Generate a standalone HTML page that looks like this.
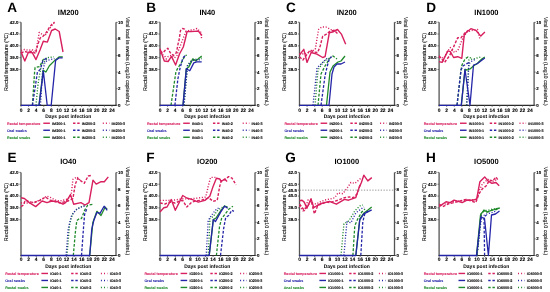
<!DOCTYPE html>
<html><head><meta charset="utf-8"><style>
html,body{margin:0;padding:0;background:#fff;}
svg{display:block;will-change:transform;filter:blur(0.3px);}
</style></head><body>
<svg width="550" height="292" viewBox="0 0 550 292" text-rendering="geometricPrecision">
<rect width="550" height="292" fill="#fff"/>
<g transform="translate(0.0,0.0)">
<text x="7.21" y="12.30" font-size="13.6" font-weight="bold" font-family="Liberation Sans, sans-serif">A</text>
<text x="68.3" y="14.60" font-size="7.5" font-weight="bold" text-anchor="middle" font-family="Liberation Sans, sans-serif">IM200</text>
<path d="M21.0 22.2V105.3M116.0 105.3V22.2" fill="none" stroke="#555" stroke-width="1.3"/>
<path d="M20.35 105.3H116.65" fill="none" stroke="#2a2a2a" stroke-width="1.2"/>
<path d="M19.4 22.20H21.0" stroke="#555" stroke-width="0.8"/>
<text x="18.4" y="23.65" font-size="4.4" font-weight="bold" text-anchor="end" stroke="#000" stroke-width="0.1" font-family="Liberation Sans, sans-serif">42.0</text>
<path d="M19.4 34.03H21.0" stroke="#555" stroke-width="0.8"/>
<text x="18.4" y="35.48" font-size="4.4" font-weight="bold" text-anchor="end" stroke="#000" stroke-width="0.1" font-family="Liberation Sans, sans-serif">41.0</text>
<path d="M19.4 45.86H21.0" stroke="#555" stroke-width="0.8"/>
<text x="18.4" y="47.31" font-size="4.4" font-weight="bold" text-anchor="end" stroke="#000" stroke-width="0.1" font-family="Liberation Sans, sans-serif">40.0</text>
<path d="M19.4 57.69H21.0" stroke="#555" stroke-width="0.8"/>
<text x="18.4" y="59.14" font-size="4.4" font-weight="bold" text-anchor="end" stroke="#000" stroke-width="0.1" font-family="Liberation Sans, sans-serif">39.0</text>
<path d="M19.4 69.52H21.0" stroke="#555" stroke-width="0.8"/>
<text x="18.4" y="70.97" font-size="4.4" font-weight="bold" text-anchor="end" stroke="#000" stroke-width="0.1" font-family="Liberation Sans, sans-serif">38.0</text>
<path d="M21.00 105.3V106.8" stroke="#555" stroke-width="0.8"/>
<text x="21.00" y="111.75" font-size="4.9" font-weight="bold" text-anchor="middle" stroke="#000" stroke-width="0.1" font-family="Liberation Sans, sans-serif">0</text>
<path d="M28.58 105.3V106.8" stroke="#555" stroke-width="0.8"/>
<text x="28.58" y="111.75" font-size="4.9" font-weight="bold" text-anchor="middle" stroke="#000" stroke-width="0.1" font-family="Liberation Sans, sans-serif">2</text>
<path d="M36.16 105.3V106.8" stroke="#555" stroke-width="0.8"/>
<text x="36.16" y="111.75" font-size="4.9" font-weight="bold" text-anchor="middle" stroke="#000" stroke-width="0.1" font-family="Liberation Sans, sans-serif">4</text>
<path d="M43.74 105.3V106.8" stroke="#555" stroke-width="0.8"/>
<text x="43.74" y="111.75" font-size="4.9" font-weight="bold" text-anchor="middle" stroke="#000" stroke-width="0.1" font-family="Liberation Sans, sans-serif">6</text>
<path d="M51.32 105.3V106.8" stroke="#555" stroke-width="0.8"/>
<text x="51.32" y="111.75" font-size="4.9" font-weight="bold" text-anchor="middle" stroke="#000" stroke-width="0.1" font-family="Liberation Sans, sans-serif">8</text>
<path d="M58.90 105.3V106.8" stroke="#555" stroke-width="0.8"/>
<text x="58.90" y="111.75" font-size="4.9" font-weight="bold" text-anchor="middle" stroke="#000" stroke-width="0.1" font-family="Liberation Sans, sans-serif">10</text>
<path d="M66.48 105.3V106.8" stroke="#555" stroke-width="0.8"/>
<text x="66.48" y="111.75" font-size="4.9" font-weight="bold" text-anchor="middle" stroke="#000" stroke-width="0.1" font-family="Liberation Sans, sans-serif">12</text>
<path d="M74.06 105.3V106.8" stroke="#555" stroke-width="0.8"/>
<text x="74.06" y="111.75" font-size="4.9" font-weight="bold" text-anchor="middle" stroke="#000" stroke-width="0.1" font-family="Liberation Sans, sans-serif">14</text>
<path d="M81.64 105.3V106.8" stroke="#555" stroke-width="0.8"/>
<text x="81.64" y="111.75" font-size="4.9" font-weight="bold" text-anchor="middle" stroke="#000" stroke-width="0.1" font-family="Liberation Sans, sans-serif">16</text>
<path d="M89.22 105.3V106.8" stroke="#555" stroke-width="0.8"/>
<text x="89.22" y="111.75" font-size="4.9" font-weight="bold" text-anchor="middle" stroke="#000" stroke-width="0.1" font-family="Liberation Sans, sans-serif">18</text>
<path d="M96.80 105.3V106.8" stroke="#555" stroke-width="0.8"/>
<text x="96.80" y="111.75" font-size="4.9" font-weight="bold" text-anchor="middle" stroke="#000" stroke-width="0.1" font-family="Liberation Sans, sans-serif">20</text>
<path d="M104.38 105.3V106.8" stroke="#555" stroke-width="0.8"/>
<text x="104.38" y="111.75" font-size="4.9" font-weight="bold" text-anchor="middle" stroke="#000" stroke-width="0.1" font-family="Liberation Sans, sans-serif">22</text>
<path d="M111.96 105.3V106.8" stroke="#555" stroke-width="0.8"/>
<text x="111.96" y="111.75" font-size="4.9" font-weight="bold" text-anchor="middle" stroke="#000" stroke-width="0.1" font-family="Liberation Sans, sans-serif">24</text>
<path d="M116.0 105.30H117.6" stroke="#555" stroke-width="0.8"/>
<text x="118.1" y="106.75" font-size="4.4" font-weight="bold" stroke="#000" stroke-width="0.1" font-family="Liberation Sans, sans-serif">0</text>
<path d="M116.0 88.72H117.6" stroke="#555" stroke-width="0.8"/>
<text x="118.1" y="90.17" font-size="4.4" font-weight="bold" stroke="#000" stroke-width="0.1" font-family="Liberation Sans, sans-serif">2</text>
<path d="M116.0 72.14H117.6" stroke="#555" stroke-width="0.8"/>
<text x="118.1" y="73.59" font-size="4.4" font-weight="bold" stroke="#000" stroke-width="0.1" font-family="Liberation Sans, sans-serif">4</text>
<path d="M116.0 55.56H117.6" stroke="#555" stroke-width="0.8"/>
<text x="118.1" y="57.01" font-size="4.4" font-weight="bold" stroke="#000" stroke-width="0.1" font-family="Liberation Sans, sans-serif">6</text>
<path d="M116.0 38.98H117.6" stroke="#555" stroke-width="0.8"/>
<text x="118.1" y="40.43" font-size="4.4" font-weight="bold" stroke="#000" stroke-width="0.1" font-family="Liberation Sans, sans-serif">8</text>
<path d="M116.0 22.40H117.6" stroke="#555" stroke-width="0.8"/>
<text x="118.1" y="23.85" font-size="4.4" font-weight="bold" stroke="#000" stroke-width="0.1" font-family="Liberation Sans, sans-serif">10</text>
<text transform="translate(7.7,61.9) rotate(-90)" font-size="5.5" fill="#111" stroke="#111" stroke-width="0.12" text-anchor="middle" font-family="Liberation Sans, sans-serif">Rectal temperature (°C)</text>
<text transform="translate(125.5,61.30) rotate(90)" font-size="5.25" fill="#111" stroke="#111" stroke-width="0.12" text-anchor="middle" font-family="Liberation Sans, sans-serif">Viral load in swabs (Log10 copies/mL)</text>
<text x="68.2" y="118.10" font-size="5" font-weight="bold" text-anchor="middle" font-family="Liberation Sans, sans-serif">Days post infection</text>
<text x="7.0" y="124.8" font-size="3.7" font-weight="bold" fill="#d81f5f" stroke="#d81f5f" stroke-width="0.06" font-family="Liberation Sans, sans-serif">Rectal temperature</text>
<path d="M43.30 123.25h6.6" stroke="#d81f5f" stroke-width="1.4"/>
<text x="52.10" y="124.8" font-size="3.7" font-weight="bold" fill="#111" stroke="#111" stroke-width="0.1" font-family="Liberation Sans, sans-serif">IM200-1</text>
<path d="M73.05 123.25h6.6" stroke="#d81f5f" stroke-width="1.4" stroke-dasharray="2.4 1.8"/>
<text x="81.85" y="124.8" font-size="3.7" font-weight="bold" fill="#111" stroke="#111" stroke-width="0.1" font-family="Liberation Sans, sans-serif">IM200-2</text>
<path d="M102.80 123.25h6.6" stroke="#d81f5f" stroke-width="1.4" stroke-dasharray="1 2.1"/>
<text x="111.60" y="124.8" font-size="3.7" font-weight="bold" fill="#111" stroke="#111" stroke-width="0.1" font-family="Liberation Sans, sans-serif">IM200-3</text>
<text x="7.0" y="131.8" font-size="3.7" font-weight="bold" fill="#2424a8" stroke="#2424a8" stroke-width="0.06" font-family="Liberation Sans, sans-serif">Oral swabs</text>
<path d="M43.30 130.25h6.6" stroke="#2424a8" stroke-width="1.4"/>
<text x="52.10" y="131.8" font-size="3.7" font-weight="bold" fill="#111" stroke="#111" stroke-width="0.1" font-family="Liberation Sans, sans-serif">IM200-1</text>
<path d="M73.05 130.25h6.6" stroke="#2424a8" stroke-width="1.4" stroke-dasharray="2.4 1.8"/>
<text x="81.85" y="131.8" font-size="3.7" font-weight="bold" fill="#111" stroke="#111" stroke-width="0.1" font-family="Liberation Sans, sans-serif">IM200-2</text>
<path d="M102.80 130.25h6.6" stroke="#2424a8" stroke-width="1.4" stroke-dasharray="1 2.1"/>
<text x="111.60" y="131.8" font-size="3.7" font-weight="bold" fill="#111" stroke="#111" stroke-width="0.1" font-family="Liberation Sans, sans-serif">IM200-3</text>
<text x="7.0" y="138.8" font-size="3.7" font-weight="bold" fill="#1f8a2a" stroke="#1f8a2a" stroke-width="0.06" font-family="Liberation Sans, sans-serif">Rectal swabs</text>
<path d="M43.30 137.25h6.6" stroke="#1f8a2a" stroke-width="1.4"/>
<text x="52.10" y="138.8" font-size="3.7" font-weight="bold" fill="#111" stroke="#111" stroke-width="0.1" font-family="Liberation Sans, sans-serif">IM200-1</text>
<path d="M73.05 137.25h6.6" stroke="#1f8a2a" stroke-width="1.4" stroke-dasharray="2.4 1.8"/>
<text x="81.85" y="138.8" font-size="3.7" font-weight="bold" fill="#111" stroke="#111" stroke-width="0.1" font-family="Liberation Sans, sans-serif">IM200-2</text>
<path d="M102.80 137.25h6.6" stroke="#1f8a2a" stroke-width="1.4" stroke-dasharray="1 2.1"/>
<text x="111.60" y="138.8" font-size="3.7" font-weight="bold" fill="#111" stroke="#111" stroke-width="0.1" font-family="Liberation Sans, sans-serif">IM200-3</text>
</g>
<g transform="translate(139.0,0.0)">
<text x="7.34" y="12.30" font-size="13.6" font-weight="bold" font-family="Liberation Sans, sans-serif">B</text>
<text x="68.3" y="14.60" font-size="7.5" font-weight="bold" text-anchor="middle" font-family="Liberation Sans, sans-serif">IN40</text>
<path d="M21.0 22.2V105.3M116.0 105.3V22.2" fill="none" stroke="#555" stroke-width="1.3"/>
<path d="M20.35 105.3H116.65" fill="none" stroke="#2a2a2a" stroke-width="1.2"/>
<path d="M19.4 22.20H21.0" stroke="#555" stroke-width="0.8"/>
<text x="18.4" y="23.65" font-size="4.4" font-weight="bold" text-anchor="end" stroke="#000" stroke-width="0.1" font-family="Liberation Sans, sans-serif">42.0</text>
<path d="M19.4 34.03H21.0" stroke="#555" stroke-width="0.8"/>
<text x="18.4" y="35.48" font-size="4.4" font-weight="bold" text-anchor="end" stroke="#000" stroke-width="0.1" font-family="Liberation Sans, sans-serif">41.0</text>
<path d="M19.4 45.86H21.0" stroke="#555" stroke-width="0.8"/>
<text x="18.4" y="47.31" font-size="4.4" font-weight="bold" text-anchor="end" stroke="#000" stroke-width="0.1" font-family="Liberation Sans, sans-serif">40.0</text>
<path d="M19.4 57.69H21.0" stroke="#555" stroke-width="0.8"/>
<text x="18.4" y="59.14" font-size="4.4" font-weight="bold" text-anchor="end" stroke="#000" stroke-width="0.1" font-family="Liberation Sans, sans-serif">39.0</text>
<path d="M19.4 69.52H21.0" stroke="#555" stroke-width="0.8"/>
<text x="18.4" y="70.97" font-size="4.4" font-weight="bold" text-anchor="end" stroke="#000" stroke-width="0.1" font-family="Liberation Sans, sans-serif">38.0</text>
<path d="M21.00 105.3V106.8" stroke="#555" stroke-width="0.8"/>
<text x="21.00" y="111.75" font-size="4.9" font-weight="bold" text-anchor="middle" stroke="#000" stroke-width="0.1" font-family="Liberation Sans, sans-serif">0</text>
<path d="M28.58 105.3V106.8" stroke="#555" stroke-width="0.8"/>
<text x="28.58" y="111.75" font-size="4.9" font-weight="bold" text-anchor="middle" stroke="#000" stroke-width="0.1" font-family="Liberation Sans, sans-serif">2</text>
<path d="M36.16 105.3V106.8" stroke="#555" stroke-width="0.8"/>
<text x="36.16" y="111.75" font-size="4.9" font-weight="bold" text-anchor="middle" stroke="#000" stroke-width="0.1" font-family="Liberation Sans, sans-serif">4</text>
<path d="M43.74 105.3V106.8" stroke="#555" stroke-width="0.8"/>
<text x="43.74" y="111.75" font-size="4.9" font-weight="bold" text-anchor="middle" stroke="#000" stroke-width="0.1" font-family="Liberation Sans, sans-serif">6</text>
<path d="M51.32 105.3V106.8" stroke="#555" stroke-width="0.8"/>
<text x="51.32" y="111.75" font-size="4.9" font-weight="bold" text-anchor="middle" stroke="#000" stroke-width="0.1" font-family="Liberation Sans, sans-serif">8</text>
<path d="M58.90 105.3V106.8" stroke="#555" stroke-width="0.8"/>
<text x="58.90" y="111.75" font-size="4.9" font-weight="bold" text-anchor="middle" stroke="#000" stroke-width="0.1" font-family="Liberation Sans, sans-serif">10</text>
<path d="M66.48 105.3V106.8" stroke="#555" stroke-width="0.8"/>
<text x="66.48" y="111.75" font-size="4.9" font-weight="bold" text-anchor="middle" stroke="#000" stroke-width="0.1" font-family="Liberation Sans, sans-serif">12</text>
<path d="M74.06 105.3V106.8" stroke="#555" stroke-width="0.8"/>
<text x="74.06" y="111.75" font-size="4.9" font-weight="bold" text-anchor="middle" stroke="#000" stroke-width="0.1" font-family="Liberation Sans, sans-serif">14</text>
<path d="M81.64 105.3V106.8" stroke="#555" stroke-width="0.8"/>
<text x="81.64" y="111.75" font-size="4.9" font-weight="bold" text-anchor="middle" stroke="#000" stroke-width="0.1" font-family="Liberation Sans, sans-serif">16</text>
<path d="M89.22 105.3V106.8" stroke="#555" stroke-width="0.8"/>
<text x="89.22" y="111.75" font-size="4.9" font-weight="bold" text-anchor="middle" stroke="#000" stroke-width="0.1" font-family="Liberation Sans, sans-serif">18</text>
<path d="M96.80 105.3V106.8" stroke="#555" stroke-width="0.8"/>
<text x="96.80" y="111.75" font-size="4.9" font-weight="bold" text-anchor="middle" stroke="#000" stroke-width="0.1" font-family="Liberation Sans, sans-serif">20</text>
<path d="M104.38 105.3V106.8" stroke="#555" stroke-width="0.8"/>
<text x="104.38" y="111.75" font-size="4.9" font-weight="bold" text-anchor="middle" stroke="#000" stroke-width="0.1" font-family="Liberation Sans, sans-serif">22</text>
<path d="M111.96 105.3V106.8" stroke="#555" stroke-width="0.8"/>
<text x="111.96" y="111.75" font-size="4.9" font-weight="bold" text-anchor="middle" stroke="#000" stroke-width="0.1" font-family="Liberation Sans, sans-serif">24</text>
<path d="M116.0 105.30H117.6" stroke="#555" stroke-width="0.8"/>
<text x="118.1" y="106.75" font-size="4.4" font-weight="bold" stroke="#000" stroke-width="0.1" font-family="Liberation Sans, sans-serif">0</text>
<path d="M116.0 88.72H117.6" stroke="#555" stroke-width="0.8"/>
<text x="118.1" y="90.17" font-size="4.4" font-weight="bold" stroke="#000" stroke-width="0.1" font-family="Liberation Sans, sans-serif">2</text>
<path d="M116.0 72.14H117.6" stroke="#555" stroke-width="0.8"/>
<text x="118.1" y="73.59" font-size="4.4" font-weight="bold" stroke="#000" stroke-width="0.1" font-family="Liberation Sans, sans-serif">4</text>
<path d="M116.0 55.56H117.6" stroke="#555" stroke-width="0.8"/>
<text x="118.1" y="57.01" font-size="4.4" font-weight="bold" stroke="#000" stroke-width="0.1" font-family="Liberation Sans, sans-serif">6</text>
<path d="M116.0 38.98H117.6" stroke="#555" stroke-width="0.8"/>
<text x="118.1" y="40.43" font-size="4.4" font-weight="bold" stroke="#000" stroke-width="0.1" font-family="Liberation Sans, sans-serif">8</text>
<path d="M116.0 22.40H117.6" stroke="#555" stroke-width="0.8"/>
<text x="118.1" y="23.85" font-size="4.4" font-weight="bold" stroke="#000" stroke-width="0.1" font-family="Liberation Sans, sans-serif">10</text>
<text transform="translate(7.7,61.9) rotate(-90)" font-size="5.5" fill="#111" stroke="#111" stroke-width="0.12" text-anchor="middle" font-family="Liberation Sans, sans-serif">Rectal temperature (°C)</text>
<text transform="translate(125.5,61.30) rotate(90)" font-size="5.25" fill="#111" stroke="#111" stroke-width="0.12" text-anchor="middle" font-family="Liberation Sans, sans-serif">Viral load in swabs (Log10 copies/mL)</text>
<text x="68.2" y="118.10" font-size="5" font-weight="bold" text-anchor="middle" font-family="Liberation Sans, sans-serif">Days post infection</text>
<text x="7.9" y="124.8" font-size="3.7" font-weight="bold" fill="#d81f5f" stroke="#d81f5f" stroke-width="0.06" font-family="Liberation Sans, sans-serif">Rectal temperature</text>
<path d="M44.20 123.25h6.6" stroke="#d81f5f" stroke-width="1.4"/>
<text x="53.00" y="124.8" font-size="3.7" font-weight="bold" fill="#111" stroke="#111" stroke-width="0.1" font-family="Liberation Sans, sans-serif">IN40-1</text>
<path d="M73.95 123.25h6.6" stroke="#d81f5f" stroke-width="1.4" stroke-dasharray="2.4 1.8"/>
<text x="82.75" y="124.8" font-size="3.7" font-weight="bold" fill="#111" stroke="#111" stroke-width="0.1" font-family="Liberation Sans, sans-serif">IN40-2</text>
<path d="M103.70 123.25h6.6" stroke="#d81f5f" stroke-width="1.4" stroke-dasharray="1 2.1"/>
<text x="112.50" y="124.8" font-size="3.7" font-weight="bold" fill="#111" stroke="#111" stroke-width="0.1" font-family="Liberation Sans, sans-serif">IN40-3</text>
<text x="7.9" y="131.8" font-size="3.7" font-weight="bold" fill="#2424a8" stroke="#2424a8" stroke-width="0.06" font-family="Liberation Sans, sans-serif">Oral swabs</text>
<path d="M44.20 130.25h6.6" stroke="#2424a8" stroke-width="1.4"/>
<text x="53.00" y="131.8" font-size="3.7" font-weight="bold" fill="#111" stroke="#111" stroke-width="0.1" font-family="Liberation Sans, sans-serif">IN40-1</text>
<path d="M73.95 130.25h6.6" stroke="#2424a8" stroke-width="1.4" stroke-dasharray="2.4 1.8"/>
<text x="82.75" y="131.8" font-size="3.7" font-weight="bold" fill="#111" stroke="#111" stroke-width="0.1" font-family="Liberation Sans, sans-serif">IN40-2</text>
<path d="M103.70 130.25h6.6" stroke="#2424a8" stroke-width="1.4" stroke-dasharray="1 2.1"/>
<text x="112.50" y="131.8" font-size="3.7" font-weight="bold" fill="#111" stroke="#111" stroke-width="0.1" font-family="Liberation Sans, sans-serif">IN40-3</text>
<text x="7.9" y="138.8" font-size="3.7" font-weight="bold" fill="#1f8a2a" stroke="#1f8a2a" stroke-width="0.06" font-family="Liberation Sans, sans-serif">Rectal swabs</text>
<path d="M44.20 137.25h6.6" stroke="#1f8a2a" stroke-width="1.4"/>
<text x="53.00" y="138.8" font-size="3.7" font-weight="bold" fill="#111" stroke="#111" stroke-width="0.1" font-family="Liberation Sans, sans-serif">IN40-1</text>
<path d="M73.95 137.25h6.6" stroke="#1f8a2a" stroke-width="1.4" stroke-dasharray="2.4 1.8"/>
<text x="82.75" y="138.8" font-size="3.7" font-weight="bold" fill="#111" stroke="#111" stroke-width="0.1" font-family="Liberation Sans, sans-serif">IN40-2</text>
<path d="M103.70 137.25h6.6" stroke="#1f8a2a" stroke-width="1.4" stroke-dasharray="1 2.1"/>
<text x="112.50" y="138.8" font-size="3.7" font-weight="bold" fill="#111" stroke="#111" stroke-width="0.1" font-family="Liberation Sans, sans-serif">IN40-3</text>
</g>
<g transform="translate(278.5,0.0)">
<text x="7.39" y="12.30" font-size="13.6" font-weight="bold" font-family="Liberation Sans, sans-serif">C</text>
<text x="68.3" y="14.60" font-size="7.5" font-weight="bold" text-anchor="middle" font-family="Liberation Sans, sans-serif">IN200</text>
<path d="M21.0 22.2V105.3M116.0 105.3V22.2" fill="none" stroke="#555" stroke-width="1.3"/>
<path d="M20.35 105.3H116.65" fill="none" stroke="#2a2a2a" stroke-width="1.2"/>
<path d="M19.4 22.20H21.0" stroke="#555" stroke-width="0.8"/>
<text x="18.4" y="23.65" font-size="4.4" font-weight="bold" text-anchor="end" stroke="#000" stroke-width="0.1" font-family="Liberation Sans, sans-serif">42.0</text>
<path d="M19.4 34.03H21.0" stroke="#555" stroke-width="0.8"/>
<text x="18.4" y="35.48" font-size="4.4" font-weight="bold" text-anchor="end" stroke="#000" stroke-width="0.1" font-family="Liberation Sans, sans-serif">41.0</text>
<path d="M19.4 45.86H21.0" stroke="#555" stroke-width="0.8"/>
<text x="18.4" y="47.31" font-size="4.4" font-weight="bold" text-anchor="end" stroke="#000" stroke-width="0.1" font-family="Liberation Sans, sans-serif">40.0</text>
<path d="M19.4 57.69H21.0" stroke="#555" stroke-width="0.8"/>
<text x="18.4" y="59.14" font-size="4.4" font-weight="bold" text-anchor="end" stroke="#000" stroke-width="0.1" font-family="Liberation Sans, sans-serif">39.0</text>
<path d="M19.4 69.52H21.0" stroke="#555" stroke-width="0.8"/>
<text x="18.4" y="70.97" font-size="4.4" font-weight="bold" text-anchor="end" stroke="#000" stroke-width="0.1" font-family="Liberation Sans, sans-serif">38.0</text>
<path d="M21.00 105.3V106.8" stroke="#555" stroke-width="0.8"/>
<text x="21.00" y="111.75" font-size="4.9" font-weight="bold" text-anchor="middle" stroke="#000" stroke-width="0.1" font-family="Liberation Sans, sans-serif">0</text>
<path d="M28.58 105.3V106.8" stroke="#555" stroke-width="0.8"/>
<text x="28.58" y="111.75" font-size="4.9" font-weight="bold" text-anchor="middle" stroke="#000" stroke-width="0.1" font-family="Liberation Sans, sans-serif">2</text>
<path d="M36.16 105.3V106.8" stroke="#555" stroke-width="0.8"/>
<text x="36.16" y="111.75" font-size="4.9" font-weight="bold" text-anchor="middle" stroke="#000" stroke-width="0.1" font-family="Liberation Sans, sans-serif">4</text>
<path d="M43.74 105.3V106.8" stroke="#555" stroke-width="0.8"/>
<text x="43.74" y="111.75" font-size="4.9" font-weight="bold" text-anchor="middle" stroke="#000" stroke-width="0.1" font-family="Liberation Sans, sans-serif">6</text>
<path d="M51.32 105.3V106.8" stroke="#555" stroke-width="0.8"/>
<text x="51.32" y="111.75" font-size="4.9" font-weight="bold" text-anchor="middle" stroke="#000" stroke-width="0.1" font-family="Liberation Sans, sans-serif">8</text>
<path d="M58.90 105.3V106.8" stroke="#555" stroke-width="0.8"/>
<text x="58.90" y="111.75" font-size="4.9" font-weight="bold" text-anchor="middle" stroke="#000" stroke-width="0.1" font-family="Liberation Sans, sans-serif">10</text>
<path d="M66.48 105.3V106.8" stroke="#555" stroke-width="0.8"/>
<text x="66.48" y="111.75" font-size="4.9" font-weight="bold" text-anchor="middle" stroke="#000" stroke-width="0.1" font-family="Liberation Sans, sans-serif">12</text>
<path d="M74.06 105.3V106.8" stroke="#555" stroke-width="0.8"/>
<text x="74.06" y="111.75" font-size="4.9" font-weight="bold" text-anchor="middle" stroke="#000" stroke-width="0.1" font-family="Liberation Sans, sans-serif">14</text>
<path d="M81.64 105.3V106.8" stroke="#555" stroke-width="0.8"/>
<text x="81.64" y="111.75" font-size="4.9" font-weight="bold" text-anchor="middle" stroke="#000" stroke-width="0.1" font-family="Liberation Sans, sans-serif">16</text>
<path d="M89.22 105.3V106.8" stroke="#555" stroke-width="0.8"/>
<text x="89.22" y="111.75" font-size="4.9" font-weight="bold" text-anchor="middle" stroke="#000" stroke-width="0.1" font-family="Liberation Sans, sans-serif">18</text>
<path d="M96.80 105.3V106.8" stroke="#555" stroke-width="0.8"/>
<text x="96.80" y="111.75" font-size="4.9" font-weight="bold" text-anchor="middle" stroke="#000" stroke-width="0.1" font-family="Liberation Sans, sans-serif">20</text>
<path d="M104.38 105.3V106.8" stroke="#555" stroke-width="0.8"/>
<text x="104.38" y="111.75" font-size="4.9" font-weight="bold" text-anchor="middle" stroke="#000" stroke-width="0.1" font-family="Liberation Sans, sans-serif">22</text>
<path d="M111.96 105.3V106.8" stroke="#555" stroke-width="0.8"/>
<text x="111.96" y="111.75" font-size="4.9" font-weight="bold" text-anchor="middle" stroke="#000" stroke-width="0.1" font-family="Liberation Sans, sans-serif">24</text>
<path d="M116.0 105.30H117.6" stroke="#555" stroke-width="0.8"/>
<text x="118.1" y="106.75" font-size="4.4" font-weight="bold" stroke="#000" stroke-width="0.1" font-family="Liberation Sans, sans-serif">0</text>
<path d="M116.0 88.72H117.6" stroke="#555" stroke-width="0.8"/>
<text x="118.1" y="90.17" font-size="4.4" font-weight="bold" stroke="#000" stroke-width="0.1" font-family="Liberation Sans, sans-serif">2</text>
<path d="M116.0 72.14H117.6" stroke="#555" stroke-width="0.8"/>
<text x="118.1" y="73.59" font-size="4.4" font-weight="bold" stroke="#000" stroke-width="0.1" font-family="Liberation Sans, sans-serif">4</text>
<path d="M116.0 55.56H117.6" stroke="#555" stroke-width="0.8"/>
<text x="118.1" y="57.01" font-size="4.4" font-weight="bold" stroke="#000" stroke-width="0.1" font-family="Liberation Sans, sans-serif">6</text>
<path d="M116.0 38.98H117.6" stroke="#555" stroke-width="0.8"/>
<text x="118.1" y="40.43" font-size="4.4" font-weight="bold" stroke="#000" stroke-width="0.1" font-family="Liberation Sans, sans-serif">8</text>
<path d="M116.0 22.40H117.6" stroke="#555" stroke-width="0.8"/>
<text x="118.1" y="23.85" font-size="4.4" font-weight="bold" stroke="#000" stroke-width="0.1" font-family="Liberation Sans, sans-serif">10</text>
<text transform="translate(7.7,61.9) rotate(-90)" font-size="5.5" fill="#111" stroke="#111" stroke-width="0.12" text-anchor="middle" font-family="Liberation Sans, sans-serif">Rectal temperature (°C)</text>
<text transform="translate(125.5,61.30) rotate(90)" font-size="5.25" fill="#111" stroke="#111" stroke-width="0.12" text-anchor="middle" font-family="Liberation Sans, sans-serif">Viral load in swabs (Log10 copies/mL)</text>
<text x="68.2" y="118.10" font-size="5" font-weight="bold" text-anchor="middle" font-family="Liberation Sans, sans-serif">Days post infection</text>
<text x="5.9" y="124.8" font-size="3.7" font-weight="bold" fill="#d81f5f" stroke="#d81f5f" stroke-width="0.06" font-family="Liberation Sans, sans-serif">Rectal temperature</text>
<path d="M42.10 123.25h6.6" stroke="#d81f5f" stroke-width="1.4"/>
<text x="50.90" y="124.8" font-size="3.7" font-weight="bold" fill="#111" stroke="#111" stroke-width="0.1" font-family="Liberation Sans, sans-serif">IN200-1</text>
<path d="M71.85 123.25h6.6" stroke="#d81f5f" stroke-width="1.4" stroke-dasharray="2.4 1.8"/>
<text x="80.65" y="124.8" font-size="3.7" font-weight="bold" fill="#111" stroke="#111" stroke-width="0.1" font-family="Liberation Sans, sans-serif">IN200-2</text>
<path d="M101.60 123.25h6.6" stroke="#d81f5f" stroke-width="1.4" stroke-dasharray="1 2.1"/>
<text x="110.40" y="124.8" font-size="3.7" font-weight="bold" fill="#111" stroke="#111" stroke-width="0.1" font-family="Liberation Sans, sans-serif">IN200-3</text>
<text x="5.9" y="131.8" font-size="3.7" font-weight="bold" fill="#2424a8" stroke="#2424a8" stroke-width="0.06" font-family="Liberation Sans, sans-serif">Oral swabs</text>
<path d="M42.10 130.25h6.6" stroke="#2424a8" stroke-width="1.4"/>
<text x="50.90" y="131.8" font-size="3.7" font-weight="bold" fill="#111" stroke="#111" stroke-width="0.1" font-family="Liberation Sans, sans-serif">IN200-1</text>
<path d="M71.85 130.25h6.6" stroke="#2424a8" stroke-width="1.4" stroke-dasharray="2.4 1.8"/>
<text x="80.65" y="131.8" font-size="3.7" font-weight="bold" fill="#111" stroke="#111" stroke-width="0.1" font-family="Liberation Sans, sans-serif">IN200-2</text>
<path d="M101.60 130.25h6.6" stroke="#2424a8" stroke-width="1.4" stroke-dasharray="1 2.1"/>
<text x="110.40" y="131.8" font-size="3.7" font-weight="bold" fill="#111" stroke="#111" stroke-width="0.1" font-family="Liberation Sans, sans-serif">IN200-3</text>
<text x="5.9" y="138.8" font-size="3.7" font-weight="bold" fill="#1f8a2a" stroke="#1f8a2a" stroke-width="0.06" font-family="Liberation Sans, sans-serif">Rectal swabs</text>
<path d="M42.10 137.25h6.6" stroke="#1f8a2a" stroke-width="1.4"/>
<text x="50.90" y="138.8" font-size="3.7" font-weight="bold" fill="#111" stroke="#111" stroke-width="0.1" font-family="Liberation Sans, sans-serif">IN200-1</text>
<path d="M71.85 137.25h6.6" stroke="#1f8a2a" stroke-width="1.4" stroke-dasharray="2.4 1.8"/>
<text x="80.65" y="138.8" font-size="3.7" font-weight="bold" fill="#111" stroke="#111" stroke-width="0.1" font-family="Liberation Sans, sans-serif">IN200-2</text>
<path d="M101.60 137.25h6.6" stroke="#1f8a2a" stroke-width="1.4" stroke-dasharray="1 2.1"/>
<text x="110.40" y="138.8" font-size="3.7" font-weight="bold" fill="#111" stroke="#111" stroke-width="0.1" font-family="Liberation Sans, sans-serif">IN200-3</text>
</g>
<g transform="translate(418.1,0.0)">
<text x="8.24" y="12.30" font-size="13.6" font-weight="bold" font-family="Liberation Sans, sans-serif">D</text>
<text x="68.3" y="14.60" font-size="7.5" font-weight="bold" text-anchor="middle" font-family="Liberation Sans, sans-serif">IN1000</text>
<path d="M21.0 22.2V105.3M116.0 105.3V22.2" fill="none" stroke="#555" stroke-width="1.3"/>
<path d="M20.35 105.3H116.65" fill="none" stroke="#2a2a2a" stroke-width="1.2"/>
<path d="M19.4 22.20H21.0" stroke="#555" stroke-width="0.8"/>
<text x="18.4" y="23.65" font-size="4.4" font-weight="bold" text-anchor="end" stroke="#000" stroke-width="0.1" font-family="Liberation Sans, sans-serif">42.0</text>
<path d="M19.4 34.03H21.0" stroke="#555" stroke-width="0.8"/>
<text x="18.4" y="35.48" font-size="4.4" font-weight="bold" text-anchor="end" stroke="#000" stroke-width="0.1" font-family="Liberation Sans, sans-serif">41.0</text>
<path d="M19.4 45.86H21.0" stroke="#555" stroke-width="0.8"/>
<text x="18.4" y="47.31" font-size="4.4" font-weight="bold" text-anchor="end" stroke="#000" stroke-width="0.1" font-family="Liberation Sans, sans-serif">40.0</text>
<path d="M19.4 57.69H21.0" stroke="#555" stroke-width="0.8"/>
<text x="18.4" y="59.14" font-size="4.4" font-weight="bold" text-anchor="end" stroke="#000" stroke-width="0.1" font-family="Liberation Sans, sans-serif">39.0</text>
<path d="M19.4 69.52H21.0" stroke="#555" stroke-width="0.8"/>
<text x="18.4" y="70.97" font-size="4.4" font-weight="bold" text-anchor="end" stroke="#000" stroke-width="0.1" font-family="Liberation Sans, sans-serif">38.0</text>
<path d="M21.00 105.3V106.8" stroke="#555" stroke-width="0.8"/>
<text x="21.00" y="111.75" font-size="4.9" font-weight="bold" text-anchor="middle" stroke="#000" stroke-width="0.1" font-family="Liberation Sans, sans-serif">0</text>
<path d="M28.58 105.3V106.8" stroke="#555" stroke-width="0.8"/>
<text x="28.58" y="111.75" font-size="4.9" font-weight="bold" text-anchor="middle" stroke="#000" stroke-width="0.1" font-family="Liberation Sans, sans-serif">2</text>
<path d="M36.16 105.3V106.8" stroke="#555" stroke-width="0.8"/>
<text x="36.16" y="111.75" font-size="4.9" font-weight="bold" text-anchor="middle" stroke="#000" stroke-width="0.1" font-family="Liberation Sans, sans-serif">4</text>
<path d="M43.74 105.3V106.8" stroke="#555" stroke-width="0.8"/>
<text x="43.74" y="111.75" font-size="4.9" font-weight="bold" text-anchor="middle" stroke="#000" stroke-width="0.1" font-family="Liberation Sans, sans-serif">6</text>
<path d="M51.32 105.3V106.8" stroke="#555" stroke-width="0.8"/>
<text x="51.32" y="111.75" font-size="4.9" font-weight="bold" text-anchor="middle" stroke="#000" stroke-width="0.1" font-family="Liberation Sans, sans-serif">8</text>
<path d="M58.90 105.3V106.8" stroke="#555" stroke-width="0.8"/>
<text x="58.90" y="111.75" font-size="4.9" font-weight="bold" text-anchor="middle" stroke="#000" stroke-width="0.1" font-family="Liberation Sans, sans-serif">10</text>
<path d="M66.48 105.3V106.8" stroke="#555" stroke-width="0.8"/>
<text x="66.48" y="111.75" font-size="4.9" font-weight="bold" text-anchor="middle" stroke="#000" stroke-width="0.1" font-family="Liberation Sans, sans-serif">12</text>
<path d="M74.06 105.3V106.8" stroke="#555" stroke-width="0.8"/>
<text x="74.06" y="111.75" font-size="4.9" font-weight="bold" text-anchor="middle" stroke="#000" stroke-width="0.1" font-family="Liberation Sans, sans-serif">14</text>
<path d="M81.64 105.3V106.8" stroke="#555" stroke-width="0.8"/>
<text x="81.64" y="111.75" font-size="4.9" font-weight="bold" text-anchor="middle" stroke="#000" stroke-width="0.1" font-family="Liberation Sans, sans-serif">16</text>
<path d="M89.22 105.3V106.8" stroke="#555" stroke-width="0.8"/>
<text x="89.22" y="111.75" font-size="4.9" font-weight="bold" text-anchor="middle" stroke="#000" stroke-width="0.1" font-family="Liberation Sans, sans-serif">18</text>
<path d="M96.80 105.3V106.8" stroke="#555" stroke-width="0.8"/>
<text x="96.80" y="111.75" font-size="4.9" font-weight="bold" text-anchor="middle" stroke="#000" stroke-width="0.1" font-family="Liberation Sans, sans-serif">20</text>
<path d="M104.38 105.3V106.8" stroke="#555" stroke-width="0.8"/>
<text x="104.38" y="111.75" font-size="4.9" font-weight="bold" text-anchor="middle" stroke="#000" stroke-width="0.1" font-family="Liberation Sans, sans-serif">22</text>
<path d="M111.96 105.3V106.8" stroke="#555" stroke-width="0.8"/>
<text x="111.96" y="111.75" font-size="4.9" font-weight="bold" text-anchor="middle" stroke="#000" stroke-width="0.1" font-family="Liberation Sans, sans-serif">24</text>
<path d="M116.0 105.30H117.6" stroke="#555" stroke-width="0.8"/>
<text x="118.1" y="106.75" font-size="4.4" font-weight="bold" stroke="#000" stroke-width="0.1" font-family="Liberation Sans, sans-serif">0</text>
<path d="M116.0 88.72H117.6" stroke="#555" stroke-width="0.8"/>
<text x="118.1" y="90.17" font-size="4.4" font-weight="bold" stroke="#000" stroke-width="0.1" font-family="Liberation Sans, sans-serif">2</text>
<path d="M116.0 72.14H117.6" stroke="#555" stroke-width="0.8"/>
<text x="118.1" y="73.59" font-size="4.4" font-weight="bold" stroke="#000" stroke-width="0.1" font-family="Liberation Sans, sans-serif">4</text>
<path d="M116.0 55.56H117.6" stroke="#555" stroke-width="0.8"/>
<text x="118.1" y="57.01" font-size="4.4" font-weight="bold" stroke="#000" stroke-width="0.1" font-family="Liberation Sans, sans-serif">6</text>
<path d="M116.0 38.98H117.6" stroke="#555" stroke-width="0.8"/>
<text x="118.1" y="40.43" font-size="4.4" font-weight="bold" stroke="#000" stroke-width="0.1" font-family="Liberation Sans, sans-serif">8</text>
<path d="M116.0 22.40H117.6" stroke="#555" stroke-width="0.8"/>
<text x="118.1" y="23.85" font-size="4.4" font-weight="bold" stroke="#000" stroke-width="0.1" font-family="Liberation Sans, sans-serif">10</text>
<text transform="translate(7.7,61.9) rotate(-90)" font-size="5.5" fill="#111" stroke="#111" stroke-width="0.12" text-anchor="middle" font-family="Liberation Sans, sans-serif">Rectal temperature (°C)</text>
<text transform="translate(125.5,61.30) rotate(90)" font-size="5.25" fill="#111" stroke="#111" stroke-width="0.12" text-anchor="middle" font-family="Liberation Sans, sans-serif">Viral load in swabs (Log10 copies/mL)</text>
<text x="68.2" y="118.10" font-size="5" font-weight="bold" text-anchor="middle" font-family="Liberation Sans, sans-serif">Days post infection</text>
<text x="5.6" y="124.8" font-size="3.7" font-weight="bold" fill="#d81f5f" stroke="#d81f5f" stroke-width="0.06" font-family="Liberation Sans, sans-serif">Rectal temperature</text>
<path d="M41.90 123.25h6.6" stroke="#d81f5f" stroke-width="1.4"/>
<text x="50.70" y="124.8" font-size="3.7" font-weight="bold" fill="#111" stroke="#111" stroke-width="0.1" font-family="Liberation Sans, sans-serif">IN1000-1</text>
<path d="M71.65 123.25h6.6" stroke="#d81f5f" stroke-width="1.4" stroke-dasharray="2.4 1.8"/>
<text x="80.45" y="124.8" font-size="3.7" font-weight="bold" fill="#111" stroke="#111" stroke-width="0.1" font-family="Liberation Sans, sans-serif">IN1000-2</text>
<path d="M101.40 123.25h6.6" stroke="#d81f5f" stroke-width="1.4" stroke-dasharray="1 2.1"/>
<text x="110.20" y="124.8" font-size="3.7" font-weight="bold" fill="#111" stroke="#111" stroke-width="0.1" font-family="Liberation Sans, sans-serif">IN1000-3</text>
<text x="5.6" y="131.8" font-size="3.7" font-weight="bold" fill="#2424a8" stroke="#2424a8" stroke-width="0.06" font-family="Liberation Sans, sans-serif">Oral swabs</text>
<path d="M41.90 130.25h6.6" stroke="#2424a8" stroke-width="1.4"/>
<text x="50.70" y="131.8" font-size="3.7" font-weight="bold" fill="#111" stroke="#111" stroke-width="0.1" font-family="Liberation Sans, sans-serif">IN1000-1</text>
<path d="M71.65 130.25h6.6" stroke="#2424a8" stroke-width="1.4" stroke-dasharray="2.4 1.8"/>
<text x="80.45" y="131.8" font-size="3.7" font-weight="bold" fill="#111" stroke="#111" stroke-width="0.1" font-family="Liberation Sans, sans-serif">IN1000-2</text>
<path d="M101.40 130.25h6.6" stroke="#2424a8" stroke-width="1.4" stroke-dasharray="1 2.1"/>
<text x="110.20" y="131.8" font-size="3.7" font-weight="bold" fill="#111" stroke="#111" stroke-width="0.1" font-family="Liberation Sans, sans-serif">IN1000-3</text>
<text x="5.6" y="138.8" font-size="3.7" font-weight="bold" fill="#1f8a2a" stroke="#1f8a2a" stroke-width="0.06" font-family="Liberation Sans, sans-serif">Rectal swabs</text>
<path d="M41.90 137.25h6.6" stroke="#1f8a2a" stroke-width="1.4"/>
<text x="50.70" y="138.8" font-size="3.7" font-weight="bold" fill="#111" stroke="#111" stroke-width="0.1" font-family="Liberation Sans, sans-serif">IN1000-1</text>
<path d="M71.65 137.25h6.6" stroke="#1f8a2a" stroke-width="1.4" stroke-dasharray="2.4 1.8"/>
<text x="80.45" y="138.8" font-size="3.7" font-weight="bold" fill="#111" stroke="#111" stroke-width="0.1" font-family="Liberation Sans, sans-serif">IN1000-2</text>
<path d="M101.40 137.25h6.6" stroke="#1f8a2a" stroke-width="1.4" stroke-dasharray="1 2.1"/>
<text x="110.20" y="138.8" font-size="3.7" font-weight="bold" fill="#111" stroke="#111" stroke-width="0.1" font-family="Liberation Sans, sans-serif">IN1000-3</text>
</g>
<g transform="translate(0.0,150.2)">
<text x="7.44" y="12.10" font-size="13.6" font-weight="bold" font-family="Liberation Sans, sans-serif">E</text>
<text x="68.3" y="14.10" font-size="7.5" font-weight="bold" text-anchor="middle" font-family="Liberation Sans, sans-serif">IO40</text>
<path d="M21.0 22.2V105.3M116.0 105.3V22.2" fill="none" stroke="#555" stroke-width="1.3"/>
<path d="M20.35 105.3H116.65" fill="none" stroke="#2a2a2a" stroke-width="1.2"/>
<path d="M19.4 22.20H21.0" stroke="#555" stroke-width="0.8"/>
<text x="18.4" y="23.65" font-size="4.4" font-weight="bold" text-anchor="end" stroke="#000" stroke-width="0.1" font-family="Liberation Sans, sans-serif">42.0</text>
<path d="M19.4 34.03H21.0" stroke="#555" stroke-width="0.8"/>
<text x="18.4" y="35.48" font-size="4.4" font-weight="bold" text-anchor="end" stroke="#000" stroke-width="0.1" font-family="Liberation Sans, sans-serif">41.0</text>
<path d="M19.4 45.86H21.0" stroke="#555" stroke-width="0.8"/>
<text x="18.4" y="47.31" font-size="4.4" font-weight="bold" text-anchor="end" stroke="#000" stroke-width="0.1" font-family="Liberation Sans, sans-serif">40.0</text>
<path d="M19.4 57.69H21.0" stroke="#555" stroke-width="0.8"/>
<text x="18.4" y="59.14" font-size="4.4" font-weight="bold" text-anchor="end" stroke="#000" stroke-width="0.1" font-family="Liberation Sans, sans-serif">39.0</text>
<path d="M19.4 69.52H21.0" stroke="#555" stroke-width="0.8"/>
<text x="18.4" y="70.97" font-size="4.4" font-weight="bold" text-anchor="end" stroke="#000" stroke-width="0.1" font-family="Liberation Sans, sans-serif">38.0</text>
<path d="M21.00 105.3V106.8" stroke="#555" stroke-width="0.8"/>
<text x="21.00" y="111.25" font-size="4.9" font-weight="bold" text-anchor="middle" stroke="#000" stroke-width="0.1" font-family="Liberation Sans, sans-serif">0</text>
<path d="M28.58 105.3V106.8" stroke="#555" stroke-width="0.8"/>
<text x="28.58" y="111.25" font-size="4.9" font-weight="bold" text-anchor="middle" stroke="#000" stroke-width="0.1" font-family="Liberation Sans, sans-serif">2</text>
<path d="M36.16 105.3V106.8" stroke="#555" stroke-width="0.8"/>
<text x="36.16" y="111.25" font-size="4.9" font-weight="bold" text-anchor="middle" stroke="#000" stroke-width="0.1" font-family="Liberation Sans, sans-serif">4</text>
<path d="M43.74 105.3V106.8" stroke="#555" stroke-width="0.8"/>
<text x="43.74" y="111.25" font-size="4.9" font-weight="bold" text-anchor="middle" stroke="#000" stroke-width="0.1" font-family="Liberation Sans, sans-serif">6</text>
<path d="M51.32 105.3V106.8" stroke="#555" stroke-width="0.8"/>
<text x="51.32" y="111.25" font-size="4.9" font-weight="bold" text-anchor="middle" stroke="#000" stroke-width="0.1" font-family="Liberation Sans, sans-serif">8</text>
<path d="M58.90 105.3V106.8" stroke="#555" stroke-width="0.8"/>
<text x="58.90" y="111.25" font-size="4.9" font-weight="bold" text-anchor="middle" stroke="#000" stroke-width="0.1" font-family="Liberation Sans, sans-serif">10</text>
<path d="M66.48 105.3V106.8" stroke="#555" stroke-width="0.8"/>
<text x="66.48" y="111.25" font-size="4.9" font-weight="bold" text-anchor="middle" stroke="#000" stroke-width="0.1" font-family="Liberation Sans, sans-serif">12</text>
<path d="M74.06 105.3V106.8" stroke="#555" stroke-width="0.8"/>
<text x="74.06" y="111.25" font-size="4.9" font-weight="bold" text-anchor="middle" stroke="#000" stroke-width="0.1" font-family="Liberation Sans, sans-serif">14</text>
<path d="M81.64 105.3V106.8" stroke="#555" stroke-width="0.8"/>
<text x="81.64" y="111.25" font-size="4.9" font-weight="bold" text-anchor="middle" stroke="#000" stroke-width="0.1" font-family="Liberation Sans, sans-serif">16</text>
<path d="M89.22 105.3V106.8" stroke="#555" stroke-width="0.8"/>
<text x="89.22" y="111.25" font-size="4.9" font-weight="bold" text-anchor="middle" stroke="#000" stroke-width="0.1" font-family="Liberation Sans, sans-serif">18</text>
<path d="M96.80 105.3V106.8" stroke="#555" stroke-width="0.8"/>
<text x="96.80" y="111.25" font-size="4.9" font-weight="bold" text-anchor="middle" stroke="#000" stroke-width="0.1" font-family="Liberation Sans, sans-serif">20</text>
<path d="M104.38 105.3V106.8" stroke="#555" stroke-width="0.8"/>
<text x="104.38" y="111.25" font-size="4.9" font-weight="bold" text-anchor="middle" stroke="#000" stroke-width="0.1" font-family="Liberation Sans, sans-serif">22</text>
<path d="M111.96 105.3V106.8" stroke="#555" stroke-width="0.8"/>
<text x="111.96" y="111.25" font-size="4.9" font-weight="bold" text-anchor="middle" stroke="#000" stroke-width="0.1" font-family="Liberation Sans, sans-serif">24</text>
<path d="M116.0 105.30H117.6" stroke="#555" stroke-width="0.8"/>
<text x="118.1" y="106.75" font-size="4.4" font-weight="bold" stroke="#000" stroke-width="0.1" font-family="Liberation Sans, sans-serif">0</text>
<path d="M116.0 88.72H117.6" stroke="#555" stroke-width="0.8"/>
<text x="118.1" y="90.17" font-size="4.4" font-weight="bold" stroke="#000" stroke-width="0.1" font-family="Liberation Sans, sans-serif">2</text>
<path d="M116.0 72.14H117.6" stroke="#555" stroke-width="0.8"/>
<text x="118.1" y="73.59" font-size="4.4" font-weight="bold" stroke="#000" stroke-width="0.1" font-family="Liberation Sans, sans-serif">4</text>
<path d="M116.0 55.56H117.6" stroke="#555" stroke-width="0.8"/>
<text x="118.1" y="57.01" font-size="4.4" font-weight="bold" stroke="#000" stroke-width="0.1" font-family="Liberation Sans, sans-serif">6</text>
<path d="M116.0 38.98H117.6" stroke="#555" stroke-width="0.8"/>
<text x="118.1" y="40.43" font-size="4.4" font-weight="bold" stroke="#000" stroke-width="0.1" font-family="Liberation Sans, sans-serif">8</text>
<path d="M116.0 22.40H117.6" stroke="#555" stroke-width="0.8"/>
<text x="118.1" y="23.85" font-size="4.4" font-weight="bold" stroke="#000" stroke-width="0.1" font-family="Liberation Sans, sans-serif">10</text>
<text transform="translate(7.7,61.9) rotate(-90)" font-size="5.5" fill="#111" stroke="#111" stroke-width="0.12" text-anchor="middle" font-family="Liberation Sans, sans-serif">Rectal temperature (°C)</text>
<text transform="translate(125.5,60.80) rotate(90)" font-size="5.25" fill="#111" stroke="#111" stroke-width="0.12" text-anchor="middle" font-family="Liberation Sans, sans-serif">Viral load in swabs (Log10 copies/mL)</text>
<text x="68.2" y="117.60" font-size="5" font-weight="bold" text-anchor="middle" font-family="Liberation Sans, sans-serif">Days post infection</text>
<text x="5.3" y="124.8" font-size="3.7" font-weight="bold" fill="#d81f5f" stroke="#d81f5f" stroke-width="0.06" font-family="Liberation Sans, sans-serif">Rectal temperature</text>
<path d="M41.40 123.25h6.6" stroke="#d81f5f" stroke-width="1.4"/>
<text x="50.20" y="124.8" font-size="3.7" font-weight="bold" fill="#111" stroke="#111" stroke-width="0.1" font-family="Liberation Sans, sans-serif">IO40-1</text>
<path d="M71.15 123.25h6.6" stroke="#d81f5f" stroke-width="1.4" stroke-dasharray="2.4 1.8"/>
<text x="79.95" y="124.8" font-size="3.7" font-weight="bold" fill="#111" stroke="#111" stroke-width="0.1" font-family="Liberation Sans, sans-serif">IO40-2</text>
<path d="M100.90 123.25h6.6" stroke="#d81f5f" stroke-width="1.4" stroke-dasharray="1 2.1"/>
<text x="109.70" y="124.8" font-size="3.7" font-weight="bold" fill="#111" stroke="#111" stroke-width="0.1" font-family="Liberation Sans, sans-serif">IO40-3</text>
<text x="5.3" y="131.8" font-size="3.7" font-weight="bold" fill="#2424a8" stroke="#2424a8" stroke-width="0.06" font-family="Liberation Sans, sans-serif">Oral swabs</text>
<path d="M41.40 130.25h6.6" stroke="#2424a8" stroke-width="1.4"/>
<text x="50.20" y="131.8" font-size="3.7" font-weight="bold" fill="#111" stroke="#111" stroke-width="0.1" font-family="Liberation Sans, sans-serif">IO40-1</text>
<path d="M71.15 130.25h6.6" stroke="#2424a8" stroke-width="1.4" stroke-dasharray="2.4 1.8"/>
<text x="79.95" y="131.8" font-size="3.7" font-weight="bold" fill="#111" stroke="#111" stroke-width="0.1" font-family="Liberation Sans, sans-serif">IO40-2</text>
<path d="M100.90 130.25h6.6" stroke="#2424a8" stroke-width="1.4" stroke-dasharray="1 2.1"/>
<text x="109.70" y="131.8" font-size="3.7" font-weight="bold" fill="#111" stroke="#111" stroke-width="0.1" font-family="Liberation Sans, sans-serif">IO40-3</text>
<text x="5.3" y="138.8" font-size="3.7" font-weight="bold" fill="#1f8a2a" stroke="#1f8a2a" stroke-width="0.06" font-family="Liberation Sans, sans-serif">Rectal swabs</text>
<path d="M41.40 137.25h6.6" stroke="#1f8a2a" stroke-width="1.4"/>
<text x="50.20" y="138.8" font-size="3.7" font-weight="bold" fill="#111" stroke="#111" stroke-width="0.1" font-family="Liberation Sans, sans-serif">IO40-1</text>
<path d="M71.15 137.25h6.6" stroke="#1f8a2a" stroke-width="1.4" stroke-dasharray="2.4 1.8"/>
<text x="79.95" y="138.8" font-size="3.7" font-weight="bold" fill="#111" stroke="#111" stroke-width="0.1" font-family="Liberation Sans, sans-serif">IO40-2</text>
<path d="M100.90 137.25h6.6" stroke="#1f8a2a" stroke-width="1.4" stroke-dasharray="1 2.1"/>
<text x="109.70" y="138.8" font-size="3.7" font-weight="bold" fill="#111" stroke="#111" stroke-width="0.1" font-family="Liberation Sans, sans-serif">IO40-3</text>
</g>
<g transform="translate(139.0,150.2)">
<text x="7.24" y="12.10" font-size="13.6" font-weight="bold" font-family="Liberation Sans, sans-serif">F</text>
<text x="68.3" y="14.10" font-size="7.5" font-weight="bold" text-anchor="middle" font-family="Liberation Sans, sans-serif">IO200</text>
<path d="M21.0 22.2V105.3M116.0 105.3V22.2" fill="none" stroke="#555" stroke-width="1.3"/>
<path d="M20.35 105.3H116.65" fill="none" stroke="#2a2a2a" stroke-width="1.2"/>
<path d="M19.4 22.20H21.0" stroke="#555" stroke-width="0.8"/>
<text x="18.4" y="23.65" font-size="4.4" font-weight="bold" text-anchor="end" stroke="#000" stroke-width="0.1" font-family="Liberation Sans, sans-serif">42.0</text>
<path d="M19.4 34.03H21.0" stroke="#555" stroke-width="0.8"/>
<text x="18.4" y="35.48" font-size="4.4" font-weight="bold" text-anchor="end" stroke="#000" stroke-width="0.1" font-family="Liberation Sans, sans-serif">41.0</text>
<path d="M19.4 45.86H21.0" stroke="#555" stroke-width="0.8"/>
<text x="18.4" y="47.31" font-size="4.4" font-weight="bold" text-anchor="end" stroke="#000" stroke-width="0.1" font-family="Liberation Sans, sans-serif">40.0</text>
<path d="M19.4 57.69H21.0" stroke="#555" stroke-width="0.8"/>
<text x="18.4" y="59.14" font-size="4.4" font-weight="bold" text-anchor="end" stroke="#000" stroke-width="0.1" font-family="Liberation Sans, sans-serif">39.0</text>
<path d="M19.4 69.52H21.0" stroke="#555" stroke-width="0.8"/>
<text x="18.4" y="70.97" font-size="4.4" font-weight="bold" text-anchor="end" stroke="#000" stroke-width="0.1" font-family="Liberation Sans, sans-serif">38.0</text>
<path d="M21.00 105.3V106.8" stroke="#555" stroke-width="0.8"/>
<text x="21.00" y="111.25" font-size="4.9" font-weight="bold" text-anchor="middle" stroke="#000" stroke-width="0.1" font-family="Liberation Sans, sans-serif">0</text>
<path d="M28.58 105.3V106.8" stroke="#555" stroke-width="0.8"/>
<text x="28.58" y="111.25" font-size="4.9" font-weight="bold" text-anchor="middle" stroke="#000" stroke-width="0.1" font-family="Liberation Sans, sans-serif">2</text>
<path d="M36.16 105.3V106.8" stroke="#555" stroke-width="0.8"/>
<text x="36.16" y="111.25" font-size="4.9" font-weight="bold" text-anchor="middle" stroke="#000" stroke-width="0.1" font-family="Liberation Sans, sans-serif">4</text>
<path d="M43.74 105.3V106.8" stroke="#555" stroke-width="0.8"/>
<text x="43.74" y="111.25" font-size="4.9" font-weight="bold" text-anchor="middle" stroke="#000" stroke-width="0.1" font-family="Liberation Sans, sans-serif">6</text>
<path d="M51.32 105.3V106.8" stroke="#555" stroke-width="0.8"/>
<text x="51.32" y="111.25" font-size="4.9" font-weight="bold" text-anchor="middle" stroke="#000" stroke-width="0.1" font-family="Liberation Sans, sans-serif">8</text>
<path d="M58.90 105.3V106.8" stroke="#555" stroke-width="0.8"/>
<text x="58.90" y="111.25" font-size="4.9" font-weight="bold" text-anchor="middle" stroke="#000" stroke-width="0.1" font-family="Liberation Sans, sans-serif">10</text>
<path d="M66.48 105.3V106.8" stroke="#555" stroke-width="0.8"/>
<text x="66.48" y="111.25" font-size="4.9" font-weight="bold" text-anchor="middle" stroke="#000" stroke-width="0.1" font-family="Liberation Sans, sans-serif">12</text>
<path d="M74.06 105.3V106.8" stroke="#555" stroke-width="0.8"/>
<text x="74.06" y="111.25" font-size="4.9" font-weight="bold" text-anchor="middle" stroke="#000" stroke-width="0.1" font-family="Liberation Sans, sans-serif">14</text>
<path d="M81.64 105.3V106.8" stroke="#555" stroke-width="0.8"/>
<text x="81.64" y="111.25" font-size="4.9" font-weight="bold" text-anchor="middle" stroke="#000" stroke-width="0.1" font-family="Liberation Sans, sans-serif">16</text>
<path d="M89.22 105.3V106.8" stroke="#555" stroke-width="0.8"/>
<text x="89.22" y="111.25" font-size="4.9" font-weight="bold" text-anchor="middle" stroke="#000" stroke-width="0.1" font-family="Liberation Sans, sans-serif">18</text>
<path d="M96.80 105.3V106.8" stroke="#555" stroke-width="0.8"/>
<text x="96.80" y="111.25" font-size="4.9" font-weight="bold" text-anchor="middle" stroke="#000" stroke-width="0.1" font-family="Liberation Sans, sans-serif">20</text>
<path d="M104.38 105.3V106.8" stroke="#555" stroke-width="0.8"/>
<text x="104.38" y="111.25" font-size="4.9" font-weight="bold" text-anchor="middle" stroke="#000" stroke-width="0.1" font-family="Liberation Sans, sans-serif">22</text>
<path d="M111.96 105.3V106.8" stroke="#555" stroke-width="0.8"/>
<text x="111.96" y="111.25" font-size="4.9" font-weight="bold" text-anchor="middle" stroke="#000" stroke-width="0.1" font-family="Liberation Sans, sans-serif">24</text>
<path d="M116.0 105.30H117.6" stroke="#555" stroke-width="0.8"/>
<text x="118.1" y="106.75" font-size="4.4" font-weight="bold" stroke="#000" stroke-width="0.1" font-family="Liberation Sans, sans-serif">0</text>
<path d="M116.0 88.72H117.6" stroke="#555" stroke-width="0.8"/>
<text x="118.1" y="90.17" font-size="4.4" font-weight="bold" stroke="#000" stroke-width="0.1" font-family="Liberation Sans, sans-serif">2</text>
<path d="M116.0 72.14H117.6" stroke="#555" stroke-width="0.8"/>
<text x="118.1" y="73.59" font-size="4.4" font-weight="bold" stroke="#000" stroke-width="0.1" font-family="Liberation Sans, sans-serif">4</text>
<path d="M116.0 55.56H117.6" stroke="#555" stroke-width="0.8"/>
<text x="118.1" y="57.01" font-size="4.4" font-weight="bold" stroke="#000" stroke-width="0.1" font-family="Liberation Sans, sans-serif">6</text>
<path d="M116.0 38.98H117.6" stroke="#555" stroke-width="0.8"/>
<text x="118.1" y="40.43" font-size="4.4" font-weight="bold" stroke="#000" stroke-width="0.1" font-family="Liberation Sans, sans-serif">8</text>
<path d="M116.0 22.40H117.6" stroke="#555" stroke-width="0.8"/>
<text x="118.1" y="23.85" font-size="4.4" font-weight="bold" stroke="#000" stroke-width="0.1" font-family="Liberation Sans, sans-serif">10</text>
<text transform="translate(7.7,61.9) rotate(-90)" font-size="5.5" fill="#111" stroke="#111" stroke-width="0.12" text-anchor="middle" font-family="Liberation Sans, sans-serif">Rectal temperature (°C)</text>
<text transform="translate(125.5,60.80) rotate(90)" font-size="5.25" fill="#111" stroke="#111" stroke-width="0.12" text-anchor="middle" font-family="Liberation Sans, sans-serif">Viral load in swabs (Log10 copies/mL)</text>
<text x="68.2" y="117.60" font-size="5" font-weight="bold" text-anchor="middle" font-family="Liberation Sans, sans-serif">Days post infection</text>
<text x="5.4" y="124.8" font-size="3.7" font-weight="bold" fill="#d81f5f" stroke="#d81f5f" stroke-width="0.06" font-family="Liberation Sans, sans-serif">Rectal temperature</text>
<path d="M41.60 123.25h6.6" stroke="#d81f5f" stroke-width="1.4"/>
<text x="50.40" y="124.8" font-size="3.7" font-weight="bold" fill="#111" stroke="#111" stroke-width="0.1" font-family="Liberation Sans, sans-serif">IO200-1</text>
<path d="M71.35 123.25h6.6" stroke="#d81f5f" stroke-width="1.4" stroke-dasharray="2.4 1.8"/>
<text x="80.15" y="124.8" font-size="3.7" font-weight="bold" fill="#111" stroke="#111" stroke-width="0.1" font-family="Liberation Sans, sans-serif">IO200-2</text>
<path d="M101.10 123.25h6.6" stroke="#d81f5f" stroke-width="1.4" stroke-dasharray="1 2.1"/>
<text x="109.90" y="124.8" font-size="3.7" font-weight="bold" fill="#111" stroke="#111" stroke-width="0.1" font-family="Liberation Sans, sans-serif">IO200-3</text>
<text x="5.4" y="131.8" font-size="3.7" font-weight="bold" fill="#2424a8" stroke="#2424a8" stroke-width="0.06" font-family="Liberation Sans, sans-serif">Oral swabs</text>
<path d="M41.60 130.25h6.6" stroke="#2424a8" stroke-width="1.4"/>
<text x="50.40" y="131.8" font-size="3.7" font-weight="bold" fill="#111" stroke="#111" stroke-width="0.1" font-family="Liberation Sans, sans-serif">IO200-1</text>
<path d="M71.35 130.25h6.6" stroke="#2424a8" stroke-width="1.4" stroke-dasharray="2.4 1.8"/>
<text x="80.15" y="131.8" font-size="3.7" font-weight="bold" fill="#111" stroke="#111" stroke-width="0.1" font-family="Liberation Sans, sans-serif">IO200-2</text>
<path d="M101.10 130.25h6.6" stroke="#2424a8" stroke-width="1.4" stroke-dasharray="1 2.1"/>
<text x="109.90" y="131.8" font-size="3.7" font-weight="bold" fill="#111" stroke="#111" stroke-width="0.1" font-family="Liberation Sans, sans-serif">IO200-3</text>
<text x="5.4" y="138.8" font-size="3.7" font-weight="bold" fill="#1f8a2a" stroke="#1f8a2a" stroke-width="0.06" font-family="Liberation Sans, sans-serif">Rectal swabs</text>
<path d="M41.60 137.25h6.6" stroke="#1f8a2a" stroke-width="1.4"/>
<text x="50.40" y="138.8" font-size="3.7" font-weight="bold" fill="#111" stroke="#111" stroke-width="0.1" font-family="Liberation Sans, sans-serif">IO200-1</text>
<path d="M71.35 137.25h6.6" stroke="#1f8a2a" stroke-width="1.4" stroke-dasharray="2.4 1.8"/>
<text x="80.15" y="138.8" font-size="3.7" font-weight="bold" fill="#111" stroke="#111" stroke-width="0.1" font-family="Liberation Sans, sans-serif">IO200-2</text>
<path d="M101.10 137.25h6.6" stroke="#1f8a2a" stroke-width="1.4" stroke-dasharray="1 2.1"/>
<text x="109.90" y="138.8" font-size="3.7" font-weight="bold" fill="#111" stroke="#111" stroke-width="0.1" font-family="Liberation Sans, sans-serif">IO200-3</text>
</g>
<g transform="translate(278.5,150.2)">
<text x="6.79" y="12.10" font-size="13.6" font-weight="bold" font-family="Liberation Sans, sans-serif">G</text>
<text x="68.3" y="14.10" font-size="7.5" font-weight="bold" text-anchor="middle" font-family="Liberation Sans, sans-serif">IO1000</text>
<path d="M21.0 22.2V105.3M116.0 105.3V22.2" fill="none" stroke="#555" stroke-width="1.3"/>
<path d="M20.35 105.3H116.65" fill="none" stroke="#2a2a2a" stroke-width="1.2"/>
<path d="M19.4 22.20H21.0" stroke="#555" stroke-width="0.8"/>
<text x="18.4" y="23.65" font-size="4.4" font-weight="bold" text-anchor="end" stroke="#000" stroke-width="0.1" font-family="Liberation Sans, sans-serif">42.0</text>
<path d="M19.4 34.03H21.0" stroke="#555" stroke-width="0.8"/>
<text x="18.4" y="35.48" font-size="4.4" font-weight="bold" text-anchor="end" stroke="#000" stroke-width="0.1" font-family="Liberation Sans, sans-serif">41.0</text>
<path d="M19.4 39.95H21.0" stroke="#555" stroke-width="0.8"/>
<text x="18.4" y="41.40" font-size="4.4" font-weight="bold" text-anchor="end" stroke="#000" stroke-width="0.1" font-family="Liberation Sans, sans-serif">40.5</text>
<path d="M19.4 45.86H21.0" stroke="#555" stroke-width="0.8"/>
<text x="18.4" y="47.31" font-size="4.4" font-weight="bold" text-anchor="end" stroke="#000" stroke-width="0.1" font-family="Liberation Sans, sans-serif">40.0</text>
<path d="M19.4 57.69H21.0" stroke="#555" stroke-width="0.8"/>
<text x="18.4" y="59.14" font-size="4.4" font-weight="bold" text-anchor="end" stroke="#000" stroke-width="0.1" font-family="Liberation Sans, sans-serif">39.0</text>
<path d="M19.4 69.52H21.0" stroke="#555" stroke-width="0.8"/>
<text x="18.4" y="70.97" font-size="4.4" font-weight="bold" text-anchor="end" stroke="#000" stroke-width="0.1" font-family="Liberation Sans, sans-serif">38.0</text>
<path d="M21.00 105.3V106.8" stroke="#555" stroke-width="0.8"/>
<text x="21.00" y="111.25" font-size="4.9" font-weight="bold" text-anchor="middle" stroke="#000" stroke-width="0.1" font-family="Liberation Sans, sans-serif">0</text>
<path d="M28.58 105.3V106.8" stroke="#555" stroke-width="0.8"/>
<text x="28.58" y="111.25" font-size="4.9" font-weight="bold" text-anchor="middle" stroke="#000" stroke-width="0.1" font-family="Liberation Sans, sans-serif">2</text>
<path d="M36.16 105.3V106.8" stroke="#555" stroke-width="0.8"/>
<text x="36.16" y="111.25" font-size="4.9" font-weight="bold" text-anchor="middle" stroke="#000" stroke-width="0.1" font-family="Liberation Sans, sans-serif">4</text>
<path d="M43.74 105.3V106.8" stroke="#555" stroke-width="0.8"/>
<text x="43.74" y="111.25" font-size="4.9" font-weight="bold" text-anchor="middle" stroke="#000" stroke-width="0.1" font-family="Liberation Sans, sans-serif">6</text>
<path d="M51.32 105.3V106.8" stroke="#555" stroke-width="0.8"/>
<text x="51.32" y="111.25" font-size="4.9" font-weight="bold" text-anchor="middle" stroke="#000" stroke-width="0.1" font-family="Liberation Sans, sans-serif">8</text>
<path d="M58.90 105.3V106.8" stroke="#555" stroke-width="0.8"/>
<text x="58.90" y="111.25" font-size="4.9" font-weight="bold" text-anchor="middle" stroke="#000" stroke-width="0.1" font-family="Liberation Sans, sans-serif">10</text>
<path d="M66.48 105.3V106.8" stroke="#555" stroke-width="0.8"/>
<text x="66.48" y="111.25" font-size="4.9" font-weight="bold" text-anchor="middle" stroke="#000" stroke-width="0.1" font-family="Liberation Sans, sans-serif">12</text>
<path d="M74.06 105.3V106.8" stroke="#555" stroke-width="0.8"/>
<text x="74.06" y="111.25" font-size="4.9" font-weight="bold" text-anchor="middle" stroke="#000" stroke-width="0.1" font-family="Liberation Sans, sans-serif">14</text>
<path d="M81.64 105.3V106.8" stroke="#555" stroke-width="0.8"/>
<text x="81.64" y="111.25" font-size="4.9" font-weight="bold" text-anchor="middle" stroke="#000" stroke-width="0.1" font-family="Liberation Sans, sans-serif">16</text>
<path d="M89.22 105.3V106.8" stroke="#555" stroke-width="0.8"/>
<text x="89.22" y="111.25" font-size="4.9" font-weight="bold" text-anchor="middle" stroke="#000" stroke-width="0.1" font-family="Liberation Sans, sans-serif">18</text>
<path d="M96.80 105.3V106.8" stroke="#555" stroke-width="0.8"/>
<text x="96.80" y="111.25" font-size="4.9" font-weight="bold" text-anchor="middle" stroke="#000" stroke-width="0.1" font-family="Liberation Sans, sans-serif">20</text>
<path d="M104.38 105.3V106.8" stroke="#555" stroke-width="0.8"/>
<text x="104.38" y="111.25" font-size="4.9" font-weight="bold" text-anchor="middle" stroke="#000" stroke-width="0.1" font-family="Liberation Sans, sans-serif">22</text>
<path d="M111.96 105.3V106.8" stroke="#555" stroke-width="0.8"/>
<text x="111.96" y="111.25" font-size="4.9" font-weight="bold" text-anchor="middle" stroke="#000" stroke-width="0.1" font-family="Liberation Sans, sans-serif">24</text>
<path d="M116.0 105.30H117.6" stroke="#555" stroke-width="0.8"/>
<text x="118.1" y="106.75" font-size="4.4" font-weight="bold" stroke="#000" stroke-width="0.1" font-family="Liberation Sans, sans-serif">0</text>
<path d="M116.0 88.72H117.6" stroke="#555" stroke-width="0.8"/>
<text x="118.1" y="90.17" font-size="4.4" font-weight="bold" stroke="#000" stroke-width="0.1" font-family="Liberation Sans, sans-serif">2</text>
<path d="M116.0 72.14H117.6" stroke="#555" stroke-width="0.8"/>
<text x="118.1" y="73.59" font-size="4.4" font-weight="bold" stroke="#000" stroke-width="0.1" font-family="Liberation Sans, sans-serif">4</text>
<path d="M116.0 55.56H117.6" stroke="#555" stroke-width="0.8"/>
<text x="118.1" y="57.01" font-size="4.4" font-weight="bold" stroke="#000" stroke-width="0.1" font-family="Liberation Sans, sans-serif">6</text>
<path d="M116.0 38.98H117.6" stroke="#555" stroke-width="0.8"/>
<text x="118.1" y="40.43" font-size="4.4" font-weight="bold" stroke="#000" stroke-width="0.1" font-family="Liberation Sans, sans-serif">8</text>
<path d="M116.0 22.40H117.6" stroke="#555" stroke-width="0.8"/>
<text x="118.1" y="23.85" font-size="4.4" font-weight="bold" stroke="#000" stroke-width="0.1" font-family="Liberation Sans, sans-serif">10</text>
<text transform="translate(7.7,61.9) rotate(-90)" font-size="5.5" fill="#111" stroke="#111" stroke-width="0.12" text-anchor="middle" font-family="Liberation Sans, sans-serif">Rectal temperature (°C)</text>
<text transform="translate(125.5,60.80) rotate(90)" font-size="5.25" fill="#111" stroke="#111" stroke-width="0.12" text-anchor="middle" font-family="Liberation Sans, sans-serif">Viral load in swabs (Log10 copies/mL)</text>
<text x="68.2" y="117.60" font-size="5" font-weight="bold" text-anchor="middle" font-family="Liberation Sans, sans-serif">Days post infection</text>
<text x="5.2" y="124.8" font-size="3.7" font-weight="bold" fill="#d81f5f" stroke="#d81f5f" stroke-width="0.06" font-family="Liberation Sans, sans-serif">Rectal temperature</text>
<path d="M40.90 123.25h6.6" stroke="#d81f5f" stroke-width="1.4"/>
<text x="49.70" y="124.8" font-size="3.7" font-weight="bold" fill="#111" stroke="#111" stroke-width="0.1" font-family="Liberation Sans, sans-serif">IO1000-1</text>
<path d="M70.65 123.25h6.6" stroke="#d81f5f" stroke-width="1.4" stroke-dasharray="2.4 1.8"/>
<text x="79.45" y="124.8" font-size="3.7" font-weight="bold" fill="#111" stroke="#111" stroke-width="0.1" font-family="Liberation Sans, sans-serif">IO1000-2</text>
<path d="M100.40 123.25h6.6" stroke="#d81f5f" stroke-width="1.4" stroke-dasharray="1 2.1"/>
<text x="109.20" y="124.8" font-size="3.7" font-weight="bold" fill="#111" stroke="#111" stroke-width="0.1" font-family="Liberation Sans, sans-serif">IO1000-3</text>
<text x="5.2" y="131.8" font-size="3.7" font-weight="bold" fill="#2424a8" stroke="#2424a8" stroke-width="0.06" font-family="Liberation Sans, sans-serif">Oral swabs</text>
<path d="M40.90 130.25h6.6" stroke="#2424a8" stroke-width="1.4"/>
<text x="49.70" y="131.8" font-size="3.7" font-weight="bold" fill="#111" stroke="#111" stroke-width="0.1" font-family="Liberation Sans, sans-serif">IO1000-1</text>
<path d="M70.65 130.25h6.6" stroke="#2424a8" stroke-width="1.4" stroke-dasharray="2.4 1.8"/>
<text x="79.45" y="131.8" font-size="3.7" font-weight="bold" fill="#111" stroke="#111" stroke-width="0.1" font-family="Liberation Sans, sans-serif">IO1000-2</text>
<path d="M100.40 130.25h6.6" stroke="#2424a8" stroke-width="1.4" stroke-dasharray="1 2.1"/>
<text x="109.20" y="131.8" font-size="3.7" font-weight="bold" fill="#111" stroke="#111" stroke-width="0.1" font-family="Liberation Sans, sans-serif">IO1000-3</text>
<text x="5.2" y="138.8" font-size="3.7" font-weight="bold" fill="#1f8a2a" stroke="#1f8a2a" stroke-width="0.06" font-family="Liberation Sans, sans-serif">Anal swabs</text>
<path d="M40.90 137.25h6.6" stroke="#1f8a2a" stroke-width="1.4"/>
<text x="49.70" y="138.8" font-size="3.7" font-weight="bold" fill="#111" stroke="#111" stroke-width="0.1" font-family="Liberation Sans, sans-serif">IO1000-1</text>
<path d="M70.65 137.25h6.6" stroke="#1f8a2a" stroke-width="1.4" stroke-dasharray="2.4 1.8"/>
<text x="79.45" y="138.8" font-size="3.7" font-weight="bold" fill="#111" stroke="#111" stroke-width="0.1" font-family="Liberation Sans, sans-serif">IO1000-2</text>
<path d="M100.40 137.25h6.6" stroke="#1f8a2a" stroke-width="1.4" stroke-dasharray="1 2.1"/>
<text x="109.20" y="138.8" font-size="3.7" font-weight="bold" fill="#111" stroke="#111" stroke-width="0.1" font-family="Liberation Sans, sans-serif">IO1000-3</text>
</g>
<g transform="translate(418.1,150.2)">
<text x="7.94" y="12.10" font-size="13.6" font-weight="bold" font-family="Liberation Sans, sans-serif">H</text>
<text x="68.3" y="14.10" font-size="7.5" font-weight="bold" text-anchor="middle" font-family="Liberation Sans, sans-serif">IO5000</text>
<path d="M21.0 22.2V105.3M116.0 105.3V22.2" fill="none" stroke="#555" stroke-width="1.3"/>
<path d="M20.35 105.3H116.65" fill="none" stroke="#2a2a2a" stroke-width="1.2"/>
<path d="M19.4 22.20H21.0" stroke="#555" stroke-width="0.8"/>
<text x="18.4" y="23.65" font-size="4.4" font-weight="bold" text-anchor="end" stroke="#000" stroke-width="0.1" font-family="Liberation Sans, sans-serif">42.0</text>
<path d="M19.4 34.03H21.0" stroke="#555" stroke-width="0.8"/>
<text x="18.4" y="35.48" font-size="4.4" font-weight="bold" text-anchor="end" stroke="#000" stroke-width="0.1" font-family="Liberation Sans, sans-serif">41.0</text>
<path d="M19.4 45.86H21.0" stroke="#555" stroke-width="0.8"/>
<text x="18.4" y="47.31" font-size="4.4" font-weight="bold" text-anchor="end" stroke="#000" stroke-width="0.1" font-family="Liberation Sans, sans-serif">40.0</text>
<path d="M19.4 57.69H21.0" stroke="#555" stroke-width="0.8"/>
<text x="18.4" y="59.14" font-size="4.4" font-weight="bold" text-anchor="end" stroke="#000" stroke-width="0.1" font-family="Liberation Sans, sans-serif">39.0</text>
<path d="M19.4 69.52H21.0" stroke="#555" stroke-width="0.8"/>
<text x="18.4" y="70.97" font-size="4.4" font-weight="bold" text-anchor="end" stroke="#000" stroke-width="0.1" font-family="Liberation Sans, sans-serif">38.0</text>
<path d="M21.00 105.3V106.8" stroke="#555" stroke-width="0.8"/>
<text x="21.00" y="111.25" font-size="4.9" font-weight="bold" text-anchor="middle" stroke="#000" stroke-width="0.1" font-family="Liberation Sans, sans-serif">0</text>
<path d="M28.58 105.3V106.8" stroke="#555" stroke-width="0.8"/>
<text x="28.58" y="111.25" font-size="4.9" font-weight="bold" text-anchor="middle" stroke="#000" stroke-width="0.1" font-family="Liberation Sans, sans-serif">2</text>
<path d="M36.16 105.3V106.8" stroke="#555" stroke-width="0.8"/>
<text x="36.16" y="111.25" font-size="4.9" font-weight="bold" text-anchor="middle" stroke="#000" stroke-width="0.1" font-family="Liberation Sans, sans-serif">4</text>
<path d="M43.74 105.3V106.8" stroke="#555" stroke-width="0.8"/>
<text x="43.74" y="111.25" font-size="4.9" font-weight="bold" text-anchor="middle" stroke="#000" stroke-width="0.1" font-family="Liberation Sans, sans-serif">6</text>
<path d="M51.32 105.3V106.8" stroke="#555" stroke-width="0.8"/>
<text x="51.32" y="111.25" font-size="4.9" font-weight="bold" text-anchor="middle" stroke="#000" stroke-width="0.1" font-family="Liberation Sans, sans-serif">8</text>
<path d="M58.90 105.3V106.8" stroke="#555" stroke-width="0.8"/>
<text x="58.90" y="111.25" font-size="4.9" font-weight="bold" text-anchor="middle" stroke="#000" stroke-width="0.1" font-family="Liberation Sans, sans-serif">10</text>
<path d="M66.48 105.3V106.8" stroke="#555" stroke-width="0.8"/>
<text x="66.48" y="111.25" font-size="4.9" font-weight="bold" text-anchor="middle" stroke="#000" stroke-width="0.1" font-family="Liberation Sans, sans-serif">12</text>
<path d="M74.06 105.3V106.8" stroke="#555" stroke-width="0.8"/>
<text x="74.06" y="111.25" font-size="4.9" font-weight="bold" text-anchor="middle" stroke="#000" stroke-width="0.1" font-family="Liberation Sans, sans-serif">14</text>
<path d="M81.64 105.3V106.8" stroke="#555" stroke-width="0.8"/>
<text x="81.64" y="111.25" font-size="4.9" font-weight="bold" text-anchor="middle" stroke="#000" stroke-width="0.1" font-family="Liberation Sans, sans-serif">16</text>
<path d="M89.22 105.3V106.8" stroke="#555" stroke-width="0.8"/>
<text x="89.22" y="111.25" font-size="4.9" font-weight="bold" text-anchor="middle" stroke="#000" stroke-width="0.1" font-family="Liberation Sans, sans-serif">18</text>
<path d="M96.80 105.3V106.8" stroke="#555" stroke-width="0.8"/>
<text x="96.80" y="111.25" font-size="4.9" font-weight="bold" text-anchor="middle" stroke="#000" stroke-width="0.1" font-family="Liberation Sans, sans-serif">20</text>
<path d="M104.38 105.3V106.8" stroke="#555" stroke-width="0.8"/>
<text x="104.38" y="111.25" font-size="4.9" font-weight="bold" text-anchor="middle" stroke="#000" stroke-width="0.1" font-family="Liberation Sans, sans-serif">22</text>
<path d="M111.96 105.3V106.8" stroke="#555" stroke-width="0.8"/>
<text x="111.96" y="111.25" font-size="4.9" font-weight="bold" text-anchor="middle" stroke="#000" stroke-width="0.1" font-family="Liberation Sans, sans-serif">24</text>
<path d="M116.0 105.30H117.6" stroke="#555" stroke-width="0.8"/>
<text x="118.1" y="106.75" font-size="4.4" font-weight="bold" stroke="#000" stroke-width="0.1" font-family="Liberation Sans, sans-serif">0</text>
<path d="M116.0 88.72H117.6" stroke="#555" stroke-width="0.8"/>
<text x="118.1" y="90.17" font-size="4.4" font-weight="bold" stroke="#000" stroke-width="0.1" font-family="Liberation Sans, sans-serif">2</text>
<path d="M116.0 72.14H117.6" stroke="#555" stroke-width="0.8"/>
<text x="118.1" y="73.59" font-size="4.4" font-weight="bold" stroke="#000" stroke-width="0.1" font-family="Liberation Sans, sans-serif">4</text>
<path d="M116.0 55.56H117.6" stroke="#555" stroke-width="0.8"/>
<text x="118.1" y="57.01" font-size="4.4" font-weight="bold" stroke="#000" stroke-width="0.1" font-family="Liberation Sans, sans-serif">6</text>
<path d="M116.0 38.98H117.6" stroke="#555" stroke-width="0.8"/>
<text x="118.1" y="40.43" font-size="4.4" font-weight="bold" stroke="#000" stroke-width="0.1" font-family="Liberation Sans, sans-serif">8</text>
<path d="M116.0 22.40H117.6" stroke="#555" stroke-width="0.8"/>
<text x="118.1" y="23.85" font-size="4.4" font-weight="bold" stroke="#000" stroke-width="0.1" font-family="Liberation Sans, sans-serif">10</text>
<text transform="translate(7.7,61.9) rotate(-90)" font-size="5.5" fill="#111" stroke="#111" stroke-width="0.12" text-anchor="middle" font-family="Liberation Sans, sans-serif">Rectal temperature (°C)</text>
<text transform="translate(125.5,60.80) rotate(90)" font-size="5.25" fill="#111" stroke="#111" stroke-width="0.12" text-anchor="middle" font-family="Liberation Sans, sans-serif">Viral load in swabs (Log10 copies/mL)</text>
<text x="68.2" y="117.60" font-size="5" font-weight="bold" text-anchor="middle" font-family="Liberation Sans, sans-serif">Days post infection</text>
<text x="5.6" y="124.8" font-size="3.7" font-weight="bold" fill="#d81f5f" stroke="#d81f5f" stroke-width="0.06" font-family="Liberation Sans, sans-serif">Rectal temperature</text>
<path d="M40.40 123.25h6.6" stroke="#d81f5f" stroke-width="1.4"/>
<text x="49.20" y="124.8" font-size="3.7" font-weight="bold" fill="#111" stroke="#111" stroke-width="0.1" font-family="Liberation Sans, sans-serif">IO5000-1</text>
<path d="M70.15 123.25h6.6" stroke="#d81f5f" stroke-width="1.4" stroke-dasharray="2.4 1.8"/>
<text x="78.95" y="124.8" font-size="3.7" font-weight="bold" fill="#111" stroke="#111" stroke-width="0.1" font-family="Liberation Sans, sans-serif">IO5000-2</text>
<path d="M99.90 123.25h6.6" stroke="#d81f5f" stroke-width="1.4" stroke-dasharray="1 2.1"/>
<text x="108.70" y="124.8" font-size="3.7" font-weight="bold" fill="#111" stroke="#111" stroke-width="0.1" font-family="Liberation Sans, sans-serif">IO5000-3</text>
<text x="5.6" y="131.8" font-size="3.7" font-weight="bold" fill="#2424a8" stroke="#2424a8" stroke-width="0.06" font-family="Liberation Sans, sans-serif">Oral swabs</text>
<path d="M40.40 130.25h6.6" stroke="#2424a8" stroke-width="1.4"/>
<text x="49.20" y="131.8" font-size="3.7" font-weight="bold" fill="#111" stroke="#111" stroke-width="0.1" font-family="Liberation Sans, sans-serif">IO5000-1</text>
<path d="M70.15 130.25h6.6" stroke="#2424a8" stroke-width="1.4" stroke-dasharray="2.4 1.8"/>
<text x="78.95" y="131.8" font-size="3.7" font-weight="bold" fill="#111" stroke="#111" stroke-width="0.1" font-family="Liberation Sans, sans-serif">IO5000-2</text>
<path d="M99.90 130.25h6.6" stroke="#2424a8" stroke-width="1.4" stroke-dasharray="1 2.1"/>
<text x="108.70" y="131.8" font-size="3.7" font-weight="bold" fill="#111" stroke="#111" stroke-width="0.1" font-family="Liberation Sans, sans-serif">IO5000-3</text>
<text x="5.6" y="138.8" font-size="3.7" font-weight="bold" fill="#1f8a2a" stroke="#1f8a2a" stroke-width="0.06" font-family="Liberation Sans, sans-serif">Rectal swabs</text>
<path d="M40.40 137.25h6.6" stroke="#1f8a2a" stroke-width="1.4"/>
<text x="49.20" y="138.8" font-size="3.7" font-weight="bold" fill="#111" stroke="#111" stroke-width="0.1" font-family="Liberation Sans, sans-serif">IO5000-1</text>
<path d="M70.15 137.25h6.6" stroke="#1f8a2a" stroke-width="1.4" stroke-dasharray="2.4 1.8"/>
<text x="78.95" y="138.8" font-size="3.7" font-weight="bold" fill="#111" stroke="#111" stroke-width="0.1" font-family="Liberation Sans, sans-serif">IO5000-2</text>
<path d="M99.90 137.25h6.6" stroke="#1f8a2a" stroke-width="1.4" stroke-dasharray="1 2.1"/>
<text x="108.70" y="138.8" font-size="3.7" font-weight="bold" fill="#111" stroke="#111" stroke-width="0.1" font-family="Liberation Sans, sans-serif">IO5000-3</text>
</g>
<path d="M39.0 105.3 L43.2 70.2 L45.9 72.0 L49.4 65.7 L54.8 60.4 L59.3 56.8 L62.8 56.8" fill="none" stroke="#1f8a2a" stroke-width="1.3" stroke-linejoin="round"/>
<path d="M32.4 105.3 L34.6 72.0 L35.1 67.5 L39.6 66.6 L43.2 59.5 L46.5 58.0" fill="none" stroke="#1f8a2a" stroke-width="1.3" stroke-linejoin="round" stroke-dasharray="2.8 1.6"/>
<path d="M36.0 105.3 L37.8 86.0 L39.6 74.6 L41.4 65.7 L47.6 57.7 L53.9 56.8" fill="none" stroke="#1f8a2a" stroke-width="1.3" stroke-linejoin="round" stroke-dasharray="1.1 1.7"/>
<path d="M21.0 105.3 L39.0 105.3 L43.4 71.5 L47.2 105.3 L51.2 105.3 L55.6 60.5 L59.2 57.8 L62.6 57.8" fill="none" stroke="#2424a8" stroke-width="1.3" stroke-linejoin="round"/>
<path d="M32.4 105.3 L35.1 88.0 L37.4 72.0 L40.2 69.5 L43.2 60.0 L46.8 58.4" fill="none" stroke="#2424a8" stroke-width="1.3" stroke-linejoin="round" stroke-dasharray="2.8 1.6"/>
<path d="M40.5 105.3 L42.5 72.0 L45.0 62.0 L47.6 60.4 L51.0 59.5 L54.5 58.6" fill="none" stroke="#2424a8" stroke-width="1.3" stroke-linejoin="round" stroke-dasharray="1.1 1.7"/>
<path d="M21.0 51.8 L24.8 61.0 L28.4 52.3 L32.3 52.7 L36.0 59.6 L40.0 50.0 L43.3 41.2 L47.4 42.1 L51.6 30.5 L55.2 29.0 L59.2 31.5 L63.0 52.0" fill="none" stroke="#d81f5f" stroke-width="1.4" stroke-linejoin="round"/>
<path d="M21.0 53.0 L24.6 51.4 L28.4 52.5 L32.2 51.0 L35.6 53.6 L37.6 45.2 L39.4 40.0 L40.2 38.0 L43.3 36.0 L46.3 32.4 L49.4 27.3 L52.0 24.2 L54.6 22.1" fill="none" stroke="#d81f5f" stroke-width="1.4" stroke-linejoin="round" stroke-dasharray="2.8 1.6"/>
<path d="M21.0 50.5 L24.6 49.5 L28.4 50.2 L32.2 49.8 L36.0 51.0 L39.2 32.4 L40.7 33.4 L44.8 36.0 L48.9 29.8 L52.5 24.5 L55.5 21.8" fill="none" stroke="#d81f5f" stroke-width="1.4" stroke-linejoin="round" stroke-dasharray="1.1 1.7"/>
<path d="M183.0 105.3 L186.3 68.8 L188.8 66.9 L192.8 58.9 L195.8 60.9 L201.7 56.0" fill="none" stroke="#1f8a2a" stroke-width="1.3" stroke-linejoin="round"/>
<path d="M171.0 105.3 L175.9 71.8 L177.9 67.9 L181.9 61.9 L184.8 56.0 L186.8 55.0" fill="none" stroke="#1f8a2a" stroke-width="1.3" stroke-linejoin="round" stroke-dasharray="2.8 1.6"/>
<path d="M184.0 105.3 L187.5 65.0 L191.0 61.0 L195.0 59.5 L199.0 58.5 L201.7 58.0" fill="none" stroke="#1f8a2a" stroke-width="1.3" stroke-linejoin="round" stroke-dasharray="1.1 1.7"/>
<path d="M160.0 105.3 L183.0 105.3 L186.3 68.8 L189.8 70.8 L193.8 62.9 L196.7 61.9 L201.7 61.9" fill="none" stroke="#2424a8" stroke-width="1.3" stroke-linejoin="round"/>
<path d="M174.9 105.3 L177.9 78.8 L179.9 68.8 L182.9 57.9 L185.8 55.0" fill="none" stroke="#2424a8" stroke-width="1.3" stroke-linejoin="round" stroke-dasharray="2.8 1.6"/>
<path d="M184.0 105.3 L187.5 66.0 L190.5 62.0 L194.0 60.0 L198.0 60.0 L201.7 59.5" fill="none" stroke="#2424a8" stroke-width="1.3" stroke-linejoin="round" stroke-dasharray="1.1 1.7"/>
<path d="M160.0 48.7 L164.3 61.0 L168.1 61.5 L171.5 56.4 L175.6 65.0 L179.5 54.0 L183.3 47.0 L185.6 38.0 L187.1 31.6 L190.9 31.5 L194.7 31.4 L198.3 31.0 L202.0 35.5" fill="none" stroke="#d81f5f" stroke-width="1.4" stroke-linejoin="round"/>
<path d="M160.0 51.3 L163.1 52.8 L165.2 50.3 L167.8 48.2 L170.3 52.8 L173.4 55.4 L176.0 53.3 L177.0 49.8 L178.0 44.1 L179.0 40.5 L180.5 30.5 L182.5 28.5 L184.6 29.2 L186.2 31.6" fill="none" stroke="#d81f5f" stroke-width="1.4" stroke-linejoin="round" stroke-dasharray="2.8 1.6"/>
<path d="M160.0 53.3 L164.7 55.9 L166.2 59.0 L168.3 56.4 L171.3 55.4 L174.4 58.0 L177.0 55.4 L178.5 50.3 L181.0 44.0 L183.3 38.0 L186.0 32.0 L190.0 30.0 L193.1 30.0 L197.0 28.5 L200.8 32.3 L201.6 38.5" fill="none" stroke="#d81f5f" stroke-width="1.4" stroke-linejoin="round" stroke-dasharray="1.1 1.7"/>
<path d="M326.5 105.3 L330.0 72.0 L333.0 66.0 L338.0 62.0 L341.0 61.0 L345.0 56.0" fill="none" stroke="#1f8a2a" stroke-width="1.3" stroke-linejoin="round"/>
<path d="M318.0 105.3 L321.0 74.0 L325.0 66.0 L330.0 58.0 L333.0 56.0 L337.0 59.0" fill="none" stroke="#1f8a2a" stroke-width="1.3" stroke-linejoin="round" stroke-dasharray="2.8 1.6"/>
<path d="M315.0 105.3 L318.0 70.0 L322.0 64.0 L326.0 60.0 L330.0 58.0" fill="none" stroke="#1f8a2a" stroke-width="1.3" stroke-linejoin="round" stroke-dasharray="1.1 1.7"/>
<path d="M299.5 105.3 L329.0 105.3 L332.0 74.0 L334.0 67.0 L337.0 64.0 L341.0 64.0 L345.0 62.0" fill="none" stroke="#2424a8" stroke-width="1.3" stroke-linejoin="round"/>
<path d="M321.0 105.3 L325.0 76.0 L327.0 67.0 L329.0 60.0 L331.5 56.5" fill="none" stroke="#2424a8" stroke-width="1.3" stroke-linejoin="round" stroke-dasharray="2.8 1.6"/>
<path d="M313.0 105.3 L317.0 68.0 L320.0 65.0 L326.0 59.0 L329.0 58.0" fill="none" stroke="#2424a8" stroke-width="1.3" stroke-linejoin="round" stroke-dasharray="1.1 1.7"/>
<path d="M299.5 55.0 L303.8 49.3 L307.0 62.4 L311.2 52.5 L316.9 54.2 L322.7 57.5 L325.1 56.7 L329.3 32.8 L332.5 32.0 L337.5 29.5 L341.6 34.4 L345.7 44.3" fill="none" stroke="#d81f5f" stroke-width="1.4" stroke-linejoin="round"/>
<path d="M299.5 56.7 L302.9 60.0 L306.5 55.0 L310.3 50.0 L314.0 52.0 L317.7 52.5 L320.2 46.0 L322.7 36.1 L326.0 34.4 L330.0 31.2 L334.2 30.3 L338.3 34.4" fill="none" stroke="#d81f5f" stroke-width="1.4" stroke-linejoin="round" stroke-dasharray="2.8 1.6"/>
<path d="M299.5 53.5 L304.0 54.0 L308.7 52.5 L312.0 51.0 L315.3 49.3 L316.9 39.4 L318.6 29.5 L321.8 27.0 L326.0 27.0 L330.9 29.5 L334.2 32.0" fill="none" stroke="#d81f5f" stroke-width="1.4" stroke-linejoin="round" stroke-dasharray="1.1 1.7"/>
<path d="M461.3 105.3 L465.0 69.5 L467.0 70.0 L470.0 69.0 L473.5 66.0 L477.8 63.0 L481.8 59.0 L484.8 57.0" fill="none" stroke="#1f8a2a" stroke-width="1.3" stroke-linejoin="round"/>
<path d="M457.0 105.3 L461.0 70.0 L462.0 65.0 L465.0 59.0 L468.0 57.0 L471.0 58.0" fill="none" stroke="#1f8a2a" stroke-width="1.3" stroke-linejoin="round" stroke-dasharray="2.8 1.6"/>
<path d="M466.5 105.3 L468.9 60.0 L472.9 59.0 L477.0 58.0 L481.0 57.0" fill="none" stroke="#1f8a2a" stroke-width="1.3" stroke-linejoin="round" stroke-dasharray="1.1 1.7"/>
<path d="M439.0 105.3 L461.3 105.3 L465.0 69.5 L470.0 105.3 L473.5 65.0 L476.8 64.0 L480.8 61.0 L484.8 58.0" fill="none" stroke="#2424a8" stroke-width="1.3" stroke-linejoin="round"/>
<path d="M457.0 105.3 L461.0 70.0 L463.0 66.0 L466.0 64.0 L469.0 62.5" fill="none" stroke="#2424a8" stroke-width="1.3" stroke-linejoin="round" stroke-dasharray="2.8 1.6"/>
<path d="M466.9 105.3 L468.9 63.9 L472.0 61.0 L476.0 59.0" fill="none" stroke="#2424a8" stroke-width="1.3" stroke-linejoin="round" stroke-dasharray="1.1 1.7"/>
<path d="M439.0 61.6 L442.1 62.4 L447.9 50.9 L450.3 51.7 L453.6 57.5 L457.7 56.7 L461.8 58.3 L464.3 34.4 L466.8 32.0 L470.9 28.7 L475.8 30.3 L480.8 36.1 L484.9 32.0" fill="none" stroke="#d81f5f" stroke-width="1.4" stroke-linejoin="round"/>
<path d="M439.0 55.8 L444.6 62.4 L449.5 55.8 L454.4 45.1 L457.7 37.7 L461.0 37.7 L465.1 32.8 L468.4 30.3" fill="none" stroke="#d81f5f" stroke-width="1.4" stroke-linejoin="round" stroke-dasharray="2.8 1.6"/>
<path d="M439.0 57.5 L444.0 58.0 L447.0 52.0 L450.3 47.6 L454.4 52.5 L458.0 50.0 L462.0 40.0 L466.8 32.0 L472.5 30.3 L477.5 29.5 L480.0 39.4" fill="none" stroke="#d81f5f" stroke-width="1.4" stroke-linejoin="round" stroke-dasharray="1.1 1.7"/>
<path d="M89.7 255.5 L92.8 222.6 L96.9 211.3 L101.0 215.5 L105.1 207.2 L107.2 209.3" fill="none" stroke="#1f8a2a" stroke-width="1.3" stroke-linejoin="round"/>
<path d="M73.3 255.5 L75.3 232.9 L76.8 220.6 L79.5 218.5 L81.5 218.5 L84.6 210.3 L87.7 205.2 L92.8 204.2" fill="none" stroke="#1f8a2a" stroke-width="1.3" stroke-linejoin="round" stroke-dasharray="2.8 1.6"/>
<path d="M67.0 255.5 L69.5 225.0 L72.5 214.0 L77.0 209.0 L82.0 206.5 L85.0 205.5" fill="none" stroke="#1f8a2a" stroke-width="1.3" stroke-linejoin="round" stroke-dasharray="1.1 1.7"/>
<path d="M21.0 255.5 L89.7 255.5 L91.8 228.8 L93.8 220.6 L96.9 212.4 L100.0 213.4 L104.1 206.2 L107.2 210.3" fill="none" stroke="#2424a8" stroke-width="1.3" stroke-linejoin="round"/>
<path d="M81.5 255.5 L83.6 226.7 L84.6 214.4 L86.6 209.3" fill="none" stroke="#2424a8" stroke-width="1.3" stroke-linejoin="round" stroke-dasharray="2.8 1.6"/>
<path d="M66.1 255.5 L68.2 228.8 L71.2 216.5 L75.3 210.3 L80.5 207.2 L84.6 206.2" fill="none" stroke="#2424a8" stroke-width="1.3" stroke-linejoin="round" stroke-dasharray="1.1 1.7"/>
<path d="M21.0 197.7 L24.4 198.5 L29.3 202.6 L35.7 206.6 L42.1 201.0 L47.0 202.6 L51.8 201.0 L58.2 201.8 L63.0 204.2 L65.6 202.6 L70.5 194.6 L73.7 204.2 L80.9 202.6 L85.0 205.0 L89.0 202.6 L93.0 180.1 L96.2 184.1 L101.1 181.7 L104.3 181.7 L108.3 176.9" fill="none" stroke="#d81f5f" stroke-width="1.4" stroke-linejoin="round"/>
<path d="M21.0 206.6 L23.6 205.0 L25.2 200.2 L29.3 201.8 L34.1 202.6 L42.1 199.4 L45.3 197.0 L50.2 200.2 L55.8 201.8 L60.0 203.0 L64.0 202.0 L68.0 201.0 L72.9 198.6 L75.3 184.1 L77.7 178.5 L84.2 183.3 L88.2 176.0 L92.2 175.2" fill="none" stroke="#d81f5f" stroke-width="1.4" stroke-linejoin="round" stroke-dasharray="2.8 1.6"/>
<path d="M21.0 203.0 L25.0 203.0 L30.0 203.0 L35.0 202.0 L40.0 200.0 L47.0 196.1 L51.0 197.7 L55.8 200.2 L60.0 201.0 L64.0 200.0 L68.0 199.0 L71.3 193.8 L72.9 179.3 L76.9 176.9 L80.1 180.1" fill="none" stroke="#d81f5f" stroke-width="1.4" stroke-linejoin="round" stroke-dasharray="1.1 1.7"/>
<path d="M209.2 255.5 L213.3 219.6 L216.0 218.0 L220.5 211.0 L224.6 206.0 L227.7 207.0" fill="none" stroke="#1f8a2a" stroke-width="1.3" stroke-linejoin="round"/>
<path d="M216.4 255.5 L219.5 226.7 L221.6 218.5 L225.7 213.4 L228.7 209.3 L232.9 206.2" fill="none" stroke="#1f8a2a" stroke-width="1.3" stroke-linejoin="round" stroke-dasharray="2.8 1.6"/>
<path d="M208.2 255.5 L210.0 218.5 L213.3 216.5 L217.0 211.0 L221.0 208.0 L225.0 206.0" fill="none" stroke="#1f8a2a" stroke-width="1.3" stroke-linejoin="round" stroke-dasharray="1.1 1.7"/>
<path d="M160.0 255.5 L209.2 255.5 L213.3 219.6 L215.4 221.6 L220.5 212.4 L224.6 206.2 L227.7 208.3" fill="none" stroke="#2424a8" stroke-width="1.3" stroke-linejoin="round"/>
<path d="M220.5 255.5 L223.6 228.8 L225.7 217.5 L228.7 215.5 L231.8 210.3 L233.9 211.3" fill="none" stroke="#2424a8" stroke-width="1.3" stroke-linejoin="round" stroke-dasharray="2.8 1.6"/>
<path d="M206.2 255.5 L208.2 220.6 L211.3 215.5 L215.4 210.3 L219.5 207.2" fill="none" stroke="#2424a8" stroke-width="1.3" stroke-linejoin="round" stroke-dasharray="1.1 1.7"/>
<path d="M160.0 212.0 L163.8 207.8 L167.0 207.0 L171.2 199.6 L175.3 210.3 L179.4 202.1 L182.7 195.5 L186.8 198.0 L192.5 199.6 L198.3 202.1 L204.9 200.4 L209.8 196.3 L213.1 186.4 L216.4 178.2 L219.7 179.0 L221.3 181.5 L224.6 179.0 L227.1 181.5" fill="none" stroke="#d81f5f" stroke-width="1.4" stroke-linejoin="round"/>
<path d="M160.0 203.0 L165.0 204.0 L170.0 202.0 L175.0 203.0 L180.0 201.0 L182.7 200.4 L186.8 207.0 L191.7 202.1 L196.0 201.0 L202.0 200.0 L209.0 198.0 L213.1 201.3 L217.2 200.4 L219.7 186.4 L221.3 180.7 L224.6 179.9 L228.7 176.6 L232.0 178.2 L236.1 184.8" fill="none" stroke="#d81f5f" stroke-width="1.4" stroke-linejoin="round" stroke-dasharray="2.8 1.6"/>
<path d="M160.0 200.4 L167.9 200.4 L175.0 200.0 L182.7 198.8 L190.0 199.0 L198.0 198.0 L205.7 197.1 L208.2 186.4 L210.6 177.4 L217.2 177.4" fill="none" stroke="#d81f5f" stroke-width="1.4" stroke-linejoin="round" stroke-dasharray="1.1 1.7"/>
<path d="M355.8 255.5 L359.8 218.8 L364.0 213.0 L368.0 210.0 L371.7 206.9" fill="none" stroke="#1f8a2a" stroke-width="1.3" stroke-linejoin="round"/>
<path d="M352.9 255.5 L354.8 225.8 L357.8 218.8 L361.8 211.9 L365.0 209.0" fill="none" stroke="#1f8a2a" stroke-width="1.3" stroke-linejoin="round" stroke-dasharray="2.8 1.6"/>
<path d="M341.0 255.5 L343.9 223.8 L348.9 220.8 L354.8 210.9 L359.8 206.0 L363.0 205.0" fill="none" stroke="#1f8a2a" stroke-width="1.3" stroke-linejoin="round" stroke-dasharray="1.1 1.7"/>
<path d="M299.5 255.5 L355.8 255.5 L359.8 219.8 L363.8 213.9 L371.7 209.9" fill="none" stroke="#2424a8" stroke-width="1.3" stroke-linejoin="round"/>
<path d="M360.8 255.5 L362.8 221.8 L364.8 213.9 L368.0 211.0" fill="none" stroke="#2424a8" stroke-width="1.3" stroke-linejoin="round" stroke-dasharray="2.8 1.6"/>
<path d="M343.9 255.5 L346.9 221.8 L350.9 222.8 L355.8 212.9 L359.8 209.9 L364.0 207.0" fill="none" stroke="#2424a8" stroke-width="1.3" stroke-linejoin="round" stroke-dasharray="1.1 1.7"/>
<path d="M299.5 200.8 L302.1 200.3 L304.2 202.1 L306.9 208.3 L311.0 198.7 L313.8 207.6 L317.2 205.5 L321.3 203.5 L329.5 201.4 L336.4 204.2 L344.5 199.4 L348.5 200.2 L355.7 197.7 L358.9 188.1 L361.4 182.5 L363.8 175.2 L367.8 180.9 L371.8 177.6" fill="none" stroke="#d81f5f" stroke-width="1.4" stroke-linejoin="round"/>
<path d="M299.5 204.0 L304.0 210.0 L308.0 206.0 L311.0 200.0 L314.4 213.8 L318.0 205.0 L322.0 204.0 L326.0 202.0 L330.0 202.6 L338.0 200.2 L344.5 197.7 L349.3 196.9 L353.3 197.7 L357.0 194.0 L360.0 185.0" fill="none" stroke="#d81f5f" stroke-width="1.4" stroke-linejoin="round" stroke-dasharray="2.8 1.6"/>
<path d="M299.5 206.0 L304.0 212.0 L308.0 200.0 L312.0 203.0 L316.0 204.0 L320.0 202.0 L325.0 200.0 L330.0 199.0 L334.8 197.7 L338.0 192.9 L342.9 193.7 L347.7 187.3 L350.9 182.5 L354.9 183.3 L359.7 179.3 L361.4 177.6" fill="none" stroke="#d81f5f" stroke-width="1.4" stroke-linejoin="round" stroke-dasharray="1.1 1.7"/>
<path d="M476.5 255.5 L480.5 215.0 L483.9 210.0 L486.9 212.0 L489.9 211.0 L492.9 210.0 L495.8 209.0 L499.8 208.0" fill="none" stroke="#1f8a2a" stroke-width="1.3" stroke-linejoin="round"/>
<path d="M477.0 255.5 L481.0 214.0 L484.0 211.0 L488.0 212.0 L492.0 210.0 L496.0 209.5 L499.0 209.0" fill="none" stroke="#1f8a2a" stroke-width="1.3" stroke-linejoin="round" stroke-dasharray="2.8 1.6"/>
<path d="M477.0 255.5 L481.5 213.0 L485.0 210.5 L489.0 210.0 L493.0 209.0 L497.0 208.5" fill="none" stroke="#1f8a2a" stroke-width="1.3" stroke-linejoin="round" stroke-dasharray="1.1 1.7"/>
<path d="M439.2 255.5 L476.5 255.5 L480.8 217.0 L484.5 218.5 L488.4 255.5 L491.5 215.0 L495.5 214.0 L499.5 211.0" fill="none" stroke="#2424a8" stroke-width="1.3" stroke-linejoin="round"/>
<path d="M484.6 255.5 L484.0 217.0 L486.5 215.0" fill="none" stroke="#2424a8" stroke-width="1.3" stroke-linejoin="round" stroke-dasharray="2.8 1.6"/>
<path d="M477.0 255.5 L481.5 216.0 L484.5 215.0 L488.0 213.5 L492.0 212.5 L496.0 211.0" fill="none" stroke="#2424a8" stroke-width="1.3" stroke-linejoin="round" stroke-dasharray="1.1 1.7"/>
<path d="M439.2 206.6 L446.0 201.8 L450.1 202.6 L454.1 200.2 L462.2 202.6 L467.0 200.2 L471.8 200.2 L476.6 199.4 L479.9 181.7 L484.7 176.9 L487.9 180.9 L491.9 183.3 L496.0 182.5 L499.2 185.7" fill="none" stroke="#d81f5f" stroke-width="1.4" stroke-linejoin="round"/>
<path d="M439.2 204.2 L442.8 206.6 L448.0 204.0 L454.1 202.6 L460.0 201.0 L466.2 199.4 L471.0 201.0 L475.8 202.6 L479.0 193.8 L482.3 188.9 L486.3 185.7 L489.5 180.1 L492.8 180.9 L496.0 176.9 L498.4 180.9" fill="none" stroke="#d81f5f" stroke-width="1.4" stroke-linejoin="round" stroke-dasharray="2.8 1.6"/>
<path d="M439.2 205.0 L445.0 204.0 L450.0 203.0 L455.0 201.0 L460.0 201.0 L466.0 200.0 L472.0 200.0 L477.0 199.0 L479.5 190.0 L482.3 184.1 L487.9 179.3 L491.9 181.7 L497.6 179.3" fill="none" stroke="#d81f5f" stroke-width="1.4" stroke-linejoin="round" stroke-dasharray="1.1 1.7"/>
<path d="M299.5 190.14H394.5" stroke="#8a8a8a" stroke-width="0.9" stroke-dasharray="1.3 1.5"/>
</svg>
</body></html>
